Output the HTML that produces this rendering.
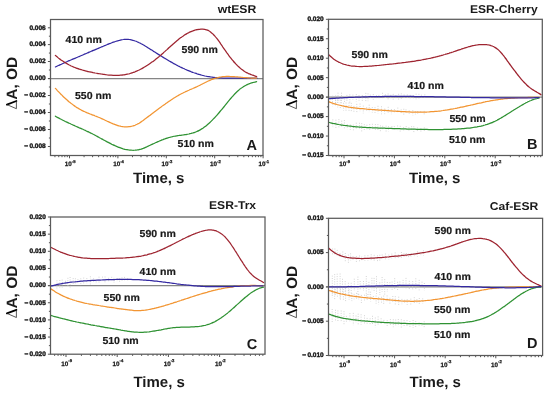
<!DOCTYPE html>
<html><head><meta charset="utf-8"><style>
html,body{margin:0;padding:0;background:#fff;}
body{width:550px;height:393px;overflow:hidden;}
svg{display:block;will-change:transform;filter:blur(0.3px);}
text{font-family:"Liberation Sans", sans-serif;font-weight:bold;fill:#1a1a1a;text-rendering:geometricPrecision;}
.yl{font-size:6.5px;text-anchor:end;fill:#1a1a1a;stroke:#1a1a1a;stroke-width:0.4px;}
.xl{font-size:6.3px;fill:#1a1a1a;stroke:#1a1a1a;stroke-width:0.25px;}
.sup{font-size:4.2px;}
.cl{font-size:10.1px;stroke:#1a1a1a;stroke-width:0.2px;}
.pl{font-size:14.5px;}
.ti{font-size:11.3px;}
.ax{font-size:15px;}
</style></head><body>
<svg width="550" height="393" viewBox="0 0 550 393">
<rect width="550" height="393" fill="#fff"/>
<line x1="48.00" y1="78.50" x2="263.00" y2="78.50" stroke="#858585" stroke-width="1.25"/>
<line x1="47.90" y1="27.80" x2="50.50" y2="27.80" stroke="#555" stroke-width="1"/>
<text x="45.70" y="29.65" class="yl">0.006</text>
<line x1="48.90" y1="36.20" x2="50.50" y2="36.20" stroke="#555" stroke-width="1"/>
<line x1="47.90" y1="44.60" x2="50.50" y2="44.60" stroke="#555" stroke-width="1"/>
<text x="45.70" y="46.45" class="yl">0.004</text>
<line x1="48.90" y1="53.05" x2="50.50" y2="53.05" stroke="#555" stroke-width="1"/>
<line x1="47.90" y1="61.50" x2="50.50" y2="61.50" stroke="#555" stroke-width="1"/>
<text x="45.70" y="63.35" class="yl">0.002</text>
<line x1="48.90" y1="70.00" x2="50.50" y2="70.00" stroke="#555" stroke-width="1"/>
<line x1="47.90" y1="78.50" x2="50.50" y2="78.50" stroke="#555" stroke-width="1"/>
<text x="45.70" y="80.35" class="yl">0.000</text>
<line x1="48.90" y1="87.00" x2="50.50" y2="87.00" stroke="#555" stroke-width="1"/>
<line x1="47.90" y1="95.50" x2="50.50" y2="95.50" stroke="#555" stroke-width="1"/>
<text x="45.70" y="97.35" class="yl">−<tspan dx="1.3">0.002</tspan></text>
<line x1="48.90" y1="104.00" x2="50.50" y2="104.00" stroke="#555" stroke-width="1"/>
<line x1="47.90" y1="112.50" x2="50.50" y2="112.50" stroke="#555" stroke-width="1"/>
<text x="45.70" y="114.35" class="yl">−<tspan dx="1.3">0.004</tspan></text>
<line x1="48.90" y1="121.00" x2="50.50" y2="121.00" stroke="#555" stroke-width="1"/>
<line x1="47.90" y1="129.50" x2="50.50" y2="129.50" stroke="#555" stroke-width="1"/>
<text x="45.70" y="131.35" class="yl">−<tspan dx="1.3">0.006</tspan></text>
<line x1="48.90" y1="138.00" x2="50.50" y2="138.00" stroke="#555" stroke-width="1"/>
<line x1="47.90" y1="146.50" x2="50.50" y2="146.50" stroke="#555" stroke-width="1"/>
<text x="45.70" y="148.35" class="yl">−<tspan dx="1.3">0.008</tspan></text>
<line x1="54.93" y1="155.50" x2="54.93" y2="157.20" stroke="#555" stroke-width="1"/>
<line x1="58.76" y1="155.50" x2="58.76" y2="157.20" stroke="#555" stroke-width="1"/>
<line x1="62.00" y1="155.50" x2="62.00" y2="157.20" stroke="#555" stroke-width="1"/>
<line x1="64.81" y1="155.50" x2="64.81" y2="157.20" stroke="#555" stroke-width="1"/>
<line x1="67.29" y1="155.50" x2="67.29" y2="157.20" stroke="#555" stroke-width="1"/>
<line x1="69.50" y1="155.50" x2="69.50" y2="158.30" stroke="#555" stroke-width="1"/>
<line x1="84.07" y1="155.50" x2="84.07" y2="157.20" stroke="#555" stroke-width="1"/>
<line x1="92.59" y1="155.50" x2="92.59" y2="157.20" stroke="#555" stroke-width="1"/>
<line x1="98.64" y1="155.50" x2="98.64" y2="157.20" stroke="#555" stroke-width="1"/>
<line x1="103.33" y1="155.50" x2="103.33" y2="157.20" stroke="#555" stroke-width="1"/>
<line x1="107.16" y1="155.50" x2="107.16" y2="157.20" stroke="#555" stroke-width="1"/>
<line x1="110.40" y1="155.50" x2="110.40" y2="157.20" stroke="#555" stroke-width="1"/>
<line x1="113.21" y1="155.50" x2="113.21" y2="157.20" stroke="#555" stroke-width="1"/>
<line x1="115.69" y1="155.50" x2="115.69" y2="157.20" stroke="#555" stroke-width="1"/>
<line x1="117.90" y1="155.50" x2="117.90" y2="158.30" stroke="#555" stroke-width="1"/>
<line x1="132.47" y1="155.50" x2="132.47" y2="157.20" stroke="#555" stroke-width="1"/>
<line x1="140.99" y1="155.50" x2="140.99" y2="157.20" stroke="#555" stroke-width="1"/>
<line x1="147.04" y1="155.50" x2="147.04" y2="157.20" stroke="#555" stroke-width="1"/>
<line x1="151.73" y1="155.50" x2="151.73" y2="157.20" stroke="#555" stroke-width="1"/>
<line x1="155.56" y1="155.50" x2="155.56" y2="157.20" stroke="#555" stroke-width="1"/>
<line x1="158.80" y1="155.50" x2="158.80" y2="157.20" stroke="#555" stroke-width="1"/>
<line x1="161.61" y1="155.50" x2="161.61" y2="157.20" stroke="#555" stroke-width="1"/>
<line x1="164.09" y1="155.50" x2="164.09" y2="157.20" stroke="#555" stroke-width="1"/>
<line x1="166.30" y1="155.50" x2="166.30" y2="158.30" stroke="#555" stroke-width="1"/>
<line x1="180.87" y1="155.50" x2="180.87" y2="157.20" stroke="#555" stroke-width="1"/>
<line x1="189.39" y1="155.50" x2="189.39" y2="157.20" stroke="#555" stroke-width="1"/>
<line x1="195.44" y1="155.50" x2="195.44" y2="157.20" stroke="#555" stroke-width="1"/>
<line x1="200.13" y1="155.50" x2="200.13" y2="157.20" stroke="#555" stroke-width="1"/>
<line x1="203.96" y1="155.50" x2="203.96" y2="157.20" stroke="#555" stroke-width="1"/>
<line x1="207.20" y1="155.50" x2="207.20" y2="157.20" stroke="#555" stroke-width="1"/>
<line x1="210.01" y1="155.50" x2="210.01" y2="157.20" stroke="#555" stroke-width="1"/>
<line x1="212.49" y1="155.50" x2="212.49" y2="157.20" stroke="#555" stroke-width="1"/>
<line x1="214.70" y1="155.50" x2="214.70" y2="158.30" stroke="#555" stroke-width="1"/>
<line x1="229.27" y1="155.50" x2="229.27" y2="157.20" stroke="#555" stroke-width="1"/>
<line x1="237.79" y1="155.50" x2="237.79" y2="157.20" stroke="#555" stroke-width="1"/>
<line x1="243.84" y1="155.50" x2="243.84" y2="157.20" stroke="#555" stroke-width="1"/>
<line x1="248.53" y1="155.50" x2="248.53" y2="157.20" stroke="#555" stroke-width="1"/>
<line x1="252.36" y1="155.50" x2="252.36" y2="157.20" stroke="#555" stroke-width="1"/>
<line x1="255.60" y1="155.50" x2="255.60" y2="157.20" stroke="#555" stroke-width="1"/>
<line x1="258.41" y1="155.50" x2="258.41" y2="157.20" stroke="#555" stroke-width="1"/>
<line x1="260.89" y1="155.50" x2="260.89" y2="157.20" stroke="#555" stroke-width="1"/>
<line x1="263.10" y1="155.50" x2="263.10" y2="158.30" stroke="#555" stroke-width="1"/>
<text x="64.80" y="166.30" class="xl">10<tspan class="sup" dy="-3.6">-5</tspan></text>
<text x="113.20" y="166.30" class="xl">10<tspan class="sup" dy="-3.6">-4</tspan></text>
<text x="161.60" y="166.30" class="xl">10<tspan class="sup" dy="-3.6">-3</tspan></text>
<text x="210.00" y="166.30" class="xl">10<tspan class="sup" dy="-3.6">-2</tspan></text>
<text x="258.40" y="166.30" class="xl">10<tspan class="sup" dy="-3.6">-1</tspan></text>
<path d="M55.4,66.9C55.7,66.7 56.7,66.3 57.4,66.0C58.1,65.7 58.7,65.4 59.4,65.1C60.1,64.8 60.7,64.5 61.4,64.2C62.1,63.9 62.7,63.6 63.4,63.3C64.0,63.0 64.7,62.7 65.4,62.4C66.0,62.1 66.7,61.8 67.4,61.5C68.0,61.2 68.7,60.9 69.4,60.7C70.0,60.4 70.7,60.1 71.4,59.8C72.0,59.5 72.7,59.2 73.4,58.9C74.0,58.7 74.7,58.4 75.4,58.1C76.0,57.8 76.7,57.5 77.4,57.2C78.0,56.9 78.7,56.7 79.4,56.4C80.0,56.1 80.7,55.8 81.3,55.5C82.0,55.3 82.7,55.0 83.3,54.7C84.0,54.4 84.7,54.1 85.3,53.8C86.0,53.6 86.7,53.3 87.3,53.0C88.0,52.7 88.7,52.4 89.3,52.1C90.0,51.9 90.7,51.6 91.3,51.3C92.0,51.0 92.7,50.7 93.3,50.4C94.0,50.2 94.7,49.9 95.3,49.6C96.0,49.3 96.7,49.0 97.3,48.7C98.0,48.4 98.6,48.2 99.3,47.9C100.0,47.6 100.6,47.3 101.3,47.0C102.0,46.7 102.6,46.5 103.3,46.2C104.0,45.9 104.6,45.6 105.3,45.4C106.0,45.1 106.6,44.8 107.3,44.5C108.0,44.3 108.6,44.0 109.3,43.7C110.0,43.5 110.6,43.2 111.3,43.0C112.0,42.7 112.6,42.4 113.3,42.2C114.0,42.0 114.6,41.7 115.3,41.5C115.9,41.3 116.6,41.0 117.3,40.8C117.9,40.6 118.6,40.5 119.3,40.3C119.9,40.1 120.6,40.0 121.3,39.8C121.9,39.7 122.6,39.6 123.3,39.5C123.9,39.4 124.6,39.4 125.3,39.3C125.9,39.3 126.6,39.3 127.3,39.3C127.9,39.4 128.6,39.4 129.3,39.5C129.9,39.6 130.6,39.7 131.2,39.8C131.9,40.0 132.6,40.1 133.2,40.3C133.9,40.5 134.6,40.7 135.2,41.0C135.9,41.2 136.6,41.5 137.2,41.8C137.9,42.0 138.6,42.3 139.2,42.7C139.9,43.0 140.6,43.3 141.2,43.7C141.9,44.0 142.6,44.4 143.2,44.8C143.9,45.2 144.6,45.6 145.2,46.0C145.9,46.4 146.6,46.8 147.2,47.2C147.9,47.7 148.5,48.1 149.2,48.5C149.9,48.9 150.5,49.4 151.2,49.8C151.9,50.2 152.5,50.6 153.2,51.1C153.9,51.5 154.5,51.9 155.2,52.3C155.9,52.8 156.5,53.2 157.2,53.6C157.9,54.0 158.5,54.5 159.2,54.9C159.9,55.3 160.5,55.7 161.2,56.1C161.9,56.6 162.5,57.0 163.2,57.4C163.9,57.8 164.5,58.2 165.2,58.6C165.8,59.0 166.5,59.4 167.2,59.8C167.8,60.2 168.5,60.6 169.2,61.0C169.8,61.4 170.5,61.7 171.2,62.1C171.8,62.5 172.5,62.9 173.2,63.2C173.8,63.6 174.5,64.0 175.2,64.3C175.8,64.7 176.5,65.0 177.2,65.4C177.8,65.7 178.5,66.1 179.2,66.4C179.8,66.7 180.5,67.1 181.2,67.4C181.8,67.7 182.5,68.0 183.1,68.3C183.8,68.6 184.5,68.9 185.1,69.2C185.8,69.5 186.5,69.8 187.1,70.1C187.8,70.4 188.5,70.7 189.1,70.9C189.8,71.2 190.5,71.5 191.1,71.7C191.8,72.0 192.5,72.2 193.1,72.5C193.8,72.7 194.5,72.9 195.1,73.2C195.8,73.4 196.5,73.6 197.1,73.8C197.8,74.0 198.4,74.2 199.1,74.4C199.8,74.6 200.4,74.8 201.1,75.0C201.8,75.2 202.4,75.3 203.1,75.5C203.8,75.7 204.4,75.8 205.1,76.0C205.8,76.1 206.4,76.2 207.1,76.4C207.8,76.5 208.4,76.6 209.1,76.7C209.8,76.8 210.4,76.9 211.1,77.0C211.8,77.1 212.4,77.2 213.1,77.3C213.8,77.4 214.4,77.4 215.1,77.5C215.7,77.6 216.4,77.6 217.1,77.7C217.7,77.7 218.4,77.8 219.1,77.8C219.7,77.9 220.4,77.9 221.1,77.9C221.7,78.0 222.4,78.0 223.1,78.0C223.7,78.0 224.4,78.1 225.1,78.1C225.7,78.1 226.4,78.1 227.1,78.1C227.7,78.1 228.4,78.1 229.1,78.1C229.7,78.1 230.4,78.1 231.1,78.1C231.7,78.1 232.4,78.1 233.0,78.1C233.7,78.1 234.4,78.1 235.0,78.1C235.7,78.1 236.4,78.1 237.0,78.1C237.7,78.1 238.4,78.1 239.0,78.1C239.7,78.1 240.4,78.1 241.0,78.0C241.7,78.0 242.4,78.0 243.0,78.0C243.7,78.0 244.4,78.0 245.0,78.0C245.7,78.0 246.4,78.0 247.0,78.0C247.7,78.0 248.4,78.0 249.0,78.0C249.7,78.0 250.3,78.0 251.0,78.0C251.7,78.0 252.3,78.0 253.0,78.1C253.7,78.1 254.3,78.1 255.0,78.1C255.7,78.1 256.7,78.2 257.0,78.2" fill="none" stroke="#3429a2" stroke-width="1.25" stroke-linejoin="round" stroke-linecap="round"/>
<path d="M55.4,55.4C55.7,55.7 56.7,56.6 57.4,57.1C58.1,57.7 58.7,58.2 59.4,58.7C60.0,59.2 60.7,59.7 61.4,60.2C62.0,60.6 62.7,61.1 63.4,61.5C64.0,62.0 64.7,62.4 65.4,62.8C66.0,63.2 66.7,63.6 67.4,63.9C68.0,64.3 68.7,64.7 69.3,65.0C70.0,65.3 70.7,65.7 71.3,66.0C72.0,66.3 72.7,66.6 73.3,66.9C74.0,67.2 74.7,67.4 75.3,67.7C76.0,67.9 76.6,68.2 77.3,68.4C78.0,68.7 78.6,68.9 79.3,69.1C80.0,69.3 80.6,69.5 81.3,69.7C82.0,69.9 82.6,70.1 83.3,70.3C84.0,70.5 84.6,70.7 85.3,70.8C85.9,71.0 86.6,71.2 87.3,71.3C87.9,71.5 88.6,71.6 89.3,71.8C89.9,71.9 90.6,72.1 91.3,72.2C91.9,72.3 92.6,72.5 93.2,72.6C93.9,72.7 94.6,72.9 95.2,73.0C95.9,73.1 96.6,73.2 97.2,73.3C97.9,73.5 98.6,73.6 99.2,73.7C99.9,73.8 100.6,73.9 101.2,74.0C101.9,74.1 102.5,74.2 103.2,74.3C103.9,74.4 104.5,74.5 105.2,74.6C105.9,74.7 106.5,74.8 107.2,74.9C107.9,74.9 108.5,75.0 109.2,75.1C109.9,75.1 110.5,75.2 111.2,75.2C111.8,75.3 112.5,75.3 113.2,75.3C113.8,75.4 114.5,75.4 115.2,75.4C115.8,75.4 116.5,75.4 117.2,75.4C117.8,75.4 118.5,75.3 119.1,75.3C119.8,75.3 120.5,75.2 121.1,75.2C121.8,75.1 122.5,75.0 123.1,74.9C123.8,74.9 124.5,74.8 125.1,74.6C125.8,74.5 126.5,74.4 127.1,74.2C127.8,74.1 128.4,73.9 129.1,73.8C129.8,73.6 130.4,73.4 131.1,73.2C131.8,73.0 132.4,72.8 133.1,72.5C133.8,72.3 134.4,72.0 135.1,71.8C135.7,71.5 136.4,71.2 137.1,70.9C137.7,70.6 138.4,70.3 139.1,70.0C139.7,69.7 140.4,69.4 141.1,69.0C141.7,68.7 142.4,68.3 143.1,67.9C143.7,67.6 144.4,67.2 145.0,66.8C145.7,66.4 146.4,66.0 147.0,65.5C147.7,65.1 148.4,64.7 149.0,64.2C149.7,63.8 150.4,63.3 151.0,62.8C151.7,62.4 152.3,61.9 153.0,61.4C153.7,60.9 154.3,60.4 155.0,59.9C155.7,59.4 156.3,58.8 157.0,58.3C157.7,57.8 158.3,57.2 159.0,56.7C159.7,56.1 160.3,55.5 161.0,55.0C161.6,54.4 162.3,53.8 163.0,53.2C163.6,52.6 164.3,52.0 165.0,51.4C165.6,50.8 166.3,50.2 167.0,49.6C167.6,49.0 168.3,48.4 168.9,47.8C169.6,47.2 170.3,46.6 170.9,46.0C171.6,45.4 172.3,44.8 172.9,44.2C173.6,43.6 174.3,43.0 174.9,42.5C175.6,41.9 176.3,41.3 176.9,40.8C177.6,40.2 178.2,39.7 178.9,39.1C179.6,38.6 180.2,38.1 180.9,37.6C181.6,37.1 182.2,36.6 182.9,36.2C183.6,35.7 184.2,35.3 184.9,34.8C185.5,34.4 186.2,34.0 186.9,33.6C187.5,33.3 188.2,32.9 188.9,32.6C189.5,32.2 190.2,31.9 190.9,31.6C191.5,31.4 192.2,31.1 192.9,30.9C193.5,30.6 194.2,30.4 194.8,30.2C195.5,30.0 196.2,29.9 196.8,29.7C197.5,29.6 198.2,29.5 198.8,29.4C199.5,29.3 200.2,29.3 200.8,29.2C201.5,29.2 202.1,29.2 202.8,29.2C203.5,29.2 204.1,29.3 204.8,29.4C205.5,29.5 206.1,29.7 206.8,29.9C207.5,30.2 208.1,30.4 208.8,30.8C209.5,31.2 210.1,31.7 210.8,32.2C211.4,32.7 212.1,33.3 212.8,33.9C213.4,34.6 214.1,35.3 214.8,36.0C215.4,36.8 216.1,37.6 216.8,38.4C217.4,39.2 218.1,40.1 218.8,41.0C219.4,41.9 220.1,42.9 220.7,43.9C221.4,44.8 222.1,45.8 222.7,46.8C223.4,47.8 224.1,48.8 224.7,49.7C225.4,50.7 226.1,51.7 226.7,52.6C227.4,53.5 228.0,54.4 228.7,55.3C229.4,56.2 230.0,57.1 230.7,57.9C231.4,58.8 232.0,59.6 232.7,60.4C233.4,61.2 234.0,62.0 234.7,62.7C235.4,63.4 236.0,64.2 236.7,64.8C237.3,65.5 238.0,66.2 238.7,66.8C239.3,67.4 240.0,68.0 240.7,68.6C241.3,69.1 242.0,69.6 242.7,70.1C243.3,70.6 244.0,71.1 244.6,71.5C245.3,71.9 246.0,72.3 246.6,72.6C247.3,73.0 248.0,73.3 248.6,73.6C249.3,73.9 250.0,74.1 250.6,74.4C251.3,74.7 252.0,74.9 252.6,75.2C253.3,75.4 253.9,75.6 254.6,75.9C255.3,76.1 256.3,76.4 256.6,76.6" fill="none" stroke="#9e2430" stroke-width="1.25" stroke-linejoin="round" stroke-linecap="round"/>
<path d="M55.4,88.4C55.7,88.7 56.7,89.8 57.4,90.6C58.1,91.3 58.7,92.0 59.4,92.7C60.0,93.4 60.7,94.0 61.4,94.7C62.0,95.4 62.7,96.0 63.4,96.7C64.0,97.3 64.7,97.9 65.4,98.5C66.0,99.1 66.7,99.7 67.4,100.3C68.0,100.9 68.7,101.4 69.3,102.0C70.0,102.5 70.7,103.1 71.3,103.6C72.0,104.1 72.7,104.6 73.3,105.1C74.0,105.6 74.7,106.0 75.3,106.5C76.0,106.9 76.6,107.4 77.3,107.8C78.0,108.2 78.6,108.6 79.3,109.0C80.0,109.4 80.6,109.7 81.3,110.1C82.0,110.4 82.6,110.8 83.3,111.1C84.0,111.4 84.6,111.7 85.3,112.0C85.9,112.3 86.6,112.6 87.3,112.9C87.9,113.1 88.6,113.4 89.3,113.7C89.9,113.9 90.6,114.2 91.3,114.4C91.9,114.7 92.6,114.9 93.2,115.2C93.9,115.4 94.6,115.7 95.2,116.0C95.9,116.2 96.6,116.5 97.2,116.7C97.9,117.0 98.6,117.3 99.2,117.5C99.9,117.8 100.6,118.1 101.2,118.4C101.9,118.7 102.5,119.0 103.2,119.3C103.9,119.6 104.5,119.9 105.2,120.3C105.9,120.6 106.5,120.9 107.2,121.2C107.9,121.5 108.5,121.8 109.2,122.1C109.9,122.5 110.5,122.8 111.2,123.0C111.8,123.3 112.5,123.6 113.2,123.9C113.8,124.1 114.5,124.4 115.2,124.6C115.8,124.9 116.5,125.1 117.2,125.3C117.8,125.5 118.5,125.7 119.1,125.9C119.8,126.0 120.5,126.2 121.1,126.3C121.8,126.4 122.5,126.5 123.1,126.6C123.8,126.7 124.5,126.8 125.1,126.8C125.8,126.8 126.5,126.9 127.1,126.8C127.8,126.8 128.4,126.8 129.1,126.7C129.8,126.6 130.4,126.5 131.1,126.4C131.8,126.3 132.4,126.1 133.1,125.9C133.8,125.7 134.4,125.5 135.1,125.2C135.7,124.9 136.4,124.6 137.1,124.3C137.7,123.9 138.4,123.6 139.1,123.2C139.7,122.8 140.4,122.3 141.1,121.9C141.7,121.4 142.4,121.0 143.1,120.5C143.7,120.0 144.4,119.5 145.0,119.0C145.7,118.6 146.4,118.1 147.0,117.6C147.7,117.1 148.4,116.6 149.0,116.1C149.7,115.6 150.4,115.1 151.0,114.5C151.7,114.0 152.3,113.5 153.0,113.0C153.7,112.5 154.3,112.0 155.0,111.5C155.7,111.0 156.3,110.5 157.0,110.0C157.7,109.5 158.3,109.0 159.0,108.5C159.7,108.0 160.3,107.5 161.0,107.1C161.6,106.6 162.3,106.1 163.0,105.6C163.6,105.1 164.3,104.7 165.0,104.2C165.6,103.7 166.3,103.3 167.0,102.8C167.6,102.3 168.3,101.9 168.9,101.4C169.6,101.0 170.3,100.5 170.9,100.1C171.6,99.6 172.3,99.2 172.9,98.8C173.6,98.4 174.3,97.9 174.9,97.5C175.6,97.1 176.3,96.7 176.9,96.3C177.6,95.9 178.2,95.5 178.9,95.1C179.6,94.8 180.2,94.4 180.9,94.0C181.6,93.7 182.2,93.3 182.9,93.0C183.6,92.6 184.2,92.3 184.9,92.0C185.5,91.7 186.2,91.4 186.9,91.1C187.5,90.8 188.2,90.5 188.9,90.2C189.5,89.9 190.2,89.6 190.9,89.3C191.5,89.1 192.2,88.8 192.9,88.5C193.5,88.2 194.2,87.9 194.8,87.6C195.5,87.3 196.2,87.0 196.8,86.7C197.5,86.4 198.2,86.0 198.8,85.7C199.5,85.4 200.2,85.1 200.8,84.7C201.5,84.4 202.1,84.0 202.8,83.7C203.5,83.4 204.1,83.0 204.8,82.7C205.5,82.4 206.1,82.0 206.8,81.7C207.5,81.4 208.1,81.1 208.8,80.8C209.5,80.5 210.1,80.2 210.8,79.9C211.4,79.6 212.1,79.4 212.8,79.1C213.4,78.9 214.1,78.6 214.8,78.4C215.4,78.2 216.1,78.0 216.8,77.8C217.4,77.6 218.1,77.5 218.8,77.3C219.4,77.2 220.1,77.1 220.7,77.0C221.4,76.9 222.1,76.8 222.7,76.7C223.4,76.6 224.1,76.6 224.7,76.5C225.4,76.5 226.1,76.5 226.7,76.4C227.4,76.4 228.0,76.4 228.7,76.4C229.4,76.4 230.0,76.4 230.7,76.5C231.4,76.5 232.0,76.5 232.7,76.5C233.4,76.6 234.0,76.6 234.7,76.7C235.4,76.7 236.0,76.8 236.7,76.8C237.3,76.9 238.0,76.9 238.7,77.0C239.3,77.1 240.0,77.1 240.7,77.2C241.3,77.2 242.0,77.3 242.7,77.4C243.3,77.4 244.0,77.5 244.6,77.6C245.3,77.6 246.0,77.7 246.6,77.7C247.3,77.8 248.0,77.8 248.6,77.9C249.3,77.9 250.0,77.9 250.6,78.0C251.3,78.0 252.0,78.0 252.6,78.0C253.3,78.0 253.9,78.0 254.6,78.0C255.3,78.0 256.3,78.0 256.6,78.0" fill="none" stroke="#f29532" stroke-width="1.25" stroke-linejoin="round" stroke-linecap="round"/>
<path d="M55.4,116.2C55.7,116.4 56.7,117.0 57.4,117.4C58.1,117.7 58.7,118.1 59.4,118.4C60.0,118.8 60.7,119.1 61.4,119.5C62.0,119.8 62.7,120.2 63.4,120.5C64.0,120.8 64.7,121.1 65.4,121.5C66.0,121.8 66.7,122.1 67.4,122.4C68.0,122.7 68.7,123.0 69.3,123.3C70.0,123.6 70.7,123.9 71.3,124.2C72.0,124.5 72.7,124.8 73.3,125.1C74.0,125.4 74.7,125.7 75.3,126.0C76.0,126.3 76.6,126.6 77.3,126.9C78.0,127.2 78.6,127.5 79.3,127.8C80.0,128.0 80.6,128.3 81.3,128.6C82.0,128.9 82.6,129.2 83.3,129.5C84.0,129.8 84.6,130.1 85.3,130.4C85.9,130.7 86.6,131.0 87.3,131.4C87.9,131.7 88.6,132.0 89.3,132.3C89.9,132.6 90.6,133.0 91.3,133.3C91.9,133.6 92.6,134.0 93.2,134.3C93.9,134.6 94.6,135.0 95.2,135.3C95.9,135.7 96.6,136.1 97.2,136.4C97.9,136.8 98.6,137.1 99.2,137.5C99.9,137.9 100.6,138.2 101.2,138.6C101.9,139.0 102.5,139.3 103.2,139.7C103.9,140.1 104.5,140.4 105.2,140.8C105.9,141.2 106.5,141.5 107.2,141.9C107.9,142.2 108.5,142.6 109.2,142.9C109.9,143.3 110.5,143.6 111.2,143.9C111.8,144.3 112.5,144.6 113.2,144.9C113.8,145.2 114.5,145.5 115.2,145.8C115.8,146.1 116.5,146.4 117.2,146.7C117.8,146.9 118.5,147.2 119.1,147.4C119.8,147.7 120.5,147.9 121.1,148.1C121.8,148.4 122.5,148.6 123.1,148.8C123.8,149.0 124.5,149.1 125.1,149.3C125.8,149.4 126.5,149.6 127.1,149.7C127.8,149.8 128.4,149.9 129.1,150.0C129.8,150.1 130.4,150.2 131.1,150.2C131.8,150.2 132.4,150.3 133.1,150.3C133.8,150.3 134.4,150.2 135.1,150.2C135.7,150.1 136.4,150.1 137.1,150.0C137.7,149.9 138.4,149.8 139.1,149.6C139.7,149.5 140.4,149.3 141.1,149.1C141.7,148.9 142.4,148.6 143.1,148.4C143.7,148.2 144.4,147.9 145.0,147.6C145.7,147.3 146.4,147.0 147.0,146.7C147.7,146.4 148.4,146.1 149.0,145.8C149.7,145.5 150.4,145.2 151.0,144.8C151.7,144.5 152.3,144.2 153.0,143.9C153.7,143.6 154.3,143.3 155.0,143.0C155.7,142.7 156.3,142.4 157.0,142.1C157.7,141.8 158.3,141.5 159.0,141.2C159.7,140.9 160.3,140.6 161.0,140.4C161.6,140.1 162.3,139.8 163.0,139.6C163.6,139.3 164.3,139.1 165.0,138.8C165.6,138.6 166.3,138.4 167.0,138.1C167.6,137.9 168.3,137.7 168.9,137.5C169.6,137.3 170.3,137.2 170.9,137.0C171.6,136.8 172.3,136.7 172.9,136.5C173.6,136.4 174.3,136.3 174.9,136.2C175.6,136.0 176.3,135.9 176.9,135.8C177.6,135.7 178.2,135.6 178.9,135.5C179.6,135.4 180.2,135.3 180.9,135.3C181.6,135.2 182.2,135.1 182.9,135.0C183.6,134.9 184.2,134.8 184.9,134.7C185.5,134.6 186.2,134.5 186.9,134.3C187.5,134.2 188.2,134.1 188.9,134.0C189.5,133.8 190.2,133.7 190.9,133.5C191.5,133.3 192.2,133.2 192.9,133.0C193.5,132.8 194.2,132.5 194.8,132.3C195.5,132.1 196.2,131.8 196.8,131.5C197.5,131.2 198.2,130.9 198.8,130.6C199.5,130.3 200.2,129.9 200.8,129.5C201.5,129.1 202.1,128.7 202.8,128.3C203.5,127.8 204.1,127.3 204.8,126.8C205.5,126.3 206.1,125.8 206.8,125.2C207.5,124.7 208.1,124.1 208.8,123.5C209.5,122.9 210.1,122.3 210.8,121.6C211.4,121.0 212.1,120.3 212.8,119.6C213.4,119.0 214.1,118.2 214.8,117.5C215.4,116.8 216.1,116.1 216.8,115.3C217.4,114.6 218.1,113.8 218.8,113.0C219.4,112.3 220.1,111.5 220.7,110.7C221.4,109.9 222.1,109.1 222.7,108.3C223.4,107.5 224.1,106.6 224.7,105.8C225.4,105.0 226.1,104.2 226.7,103.3C227.4,102.5 228.0,101.7 228.7,100.9C229.4,100.1 230.0,99.3 230.7,98.5C231.4,97.7 232.0,97.0 232.7,96.2C233.4,95.5 234.0,94.7 234.7,94.0C235.4,93.3 236.0,92.7 236.7,92.0C237.3,91.4 238.0,90.8 238.7,90.2C239.3,89.6 240.0,89.1 240.7,88.6C241.3,88.1 242.0,87.6 242.7,87.2C243.3,86.7 244.0,86.3 244.6,85.9C245.3,85.6 246.0,85.2 246.6,84.9C247.3,84.6 248.0,84.3 248.6,84.0C249.3,83.7 250.0,83.5 250.6,83.2C251.3,83.0 252.0,82.8 252.6,82.6C253.3,82.4 253.9,82.2 254.6,82.1C255.3,81.9 256.3,81.7 256.6,81.6" fill="none" stroke="#2f9233" stroke-width="1.25" stroke-linejoin="round" stroke-linecap="round"/>
<rect x="50.50" y="19.50" width="212.50" height="136.00" fill="none" stroke="#5a5a5a" stroke-width="1.25"/>
<text x="65.60" y="42.60" class="cl" textLength="36.3" lengthAdjust="spacingAndGlyphs">410 nm</text>
<text x="181.60" y="53.40" class="cl" textLength="36.3" lengthAdjust="spacingAndGlyphs">590 nm</text>
<text x="75.00" y="99.40" class="cl" textLength="36.3" lengthAdjust="spacingAndGlyphs">550 nm</text>
<text x="177.60" y="147.00" class="cl" textLength="36.3" lengthAdjust="spacingAndGlyphs">510 nm</text>
<text x="246.50" y="149.70" class="pl">A</text>
<text x="256.30" y="12.80" class="ti" text-anchor="end" textLength="38.6" lengthAdjust="spacingAndGlyphs">wtESR</text>
<text x="133.00" y="182.80" class="ax">Time, s</text>
<path d="M6.90,104.60 L16.40,101.00" stroke="#000" stroke-width="1.8" stroke-linecap="round"/>
<path d="M6.90,104.60 L16.40,108.70 L16.40,101.00" fill="none" stroke="#222" stroke-width="0.75" stroke-linejoin="miter"/>
<text transform="translate(17.10,99.80) rotate(-90)" x="0" y="0" class="ax" textLength="43.0" lengthAdjust="spacingAndGlyphs">A, OD</text>
<line x1="326.00" y1="97.20" x2="542.30" y2="97.20" stroke="#858585" stroke-width="1.25"/>
<line x1="325.90" y1="19.30" x2="328.50" y2="19.30" stroke="#555" stroke-width="1"/>
<text x="323.70" y="21.15" class="yl">0.020</text>
<line x1="326.90" y1="29.03" x2="328.50" y2="29.03" stroke="#555" stroke-width="1"/>
<line x1="325.90" y1="38.76" x2="328.50" y2="38.76" stroke="#555" stroke-width="1"/>
<text x="323.70" y="40.61" class="yl">0.015</text>
<line x1="326.90" y1="48.49" x2="328.50" y2="48.49" stroke="#555" stroke-width="1"/>
<line x1="325.90" y1="58.21" x2="328.50" y2="58.21" stroke="#555" stroke-width="1"/>
<text x="323.70" y="60.06" class="yl">0.010</text>
<line x1="326.90" y1="67.94" x2="328.50" y2="67.94" stroke="#555" stroke-width="1"/>
<line x1="325.90" y1="77.67" x2="328.50" y2="77.67" stroke="#555" stroke-width="1"/>
<text x="323.70" y="79.52" class="yl">0.005</text>
<line x1="326.90" y1="87.40" x2="328.50" y2="87.40" stroke="#555" stroke-width="1"/>
<line x1="325.90" y1="97.13" x2="328.50" y2="97.13" stroke="#555" stroke-width="1"/>
<text x="323.70" y="98.98" class="yl">0.000</text>
<line x1="326.90" y1="106.86" x2="328.50" y2="106.86" stroke="#555" stroke-width="1"/>
<line x1="325.90" y1="116.59" x2="328.50" y2="116.59" stroke="#555" stroke-width="1"/>
<text x="323.70" y="118.44" class="yl">−<tspan dx="1.3">0.005</tspan></text>
<line x1="326.90" y1="126.31" x2="328.50" y2="126.31" stroke="#555" stroke-width="1"/>
<line x1="325.90" y1="136.04" x2="328.50" y2="136.04" stroke="#555" stroke-width="1"/>
<text x="323.70" y="137.89" class="yl">−<tspan dx="1.3">0.010</tspan></text>
<line x1="326.90" y1="145.77" x2="328.50" y2="145.77" stroke="#555" stroke-width="1"/>
<line x1="325.90" y1="155.50" x2="328.50" y2="155.50" stroke="#555" stroke-width="1"/>
<text x="323.70" y="157.35" class="yl">−<tspan dx="1.3">0.015</tspan></text>
<line x1="332.82" y1="155.50" x2="332.82" y2="157.20" stroke="#555" stroke-width="1"/>
<line x1="336.19" y1="155.50" x2="336.19" y2="157.20" stroke="#555" stroke-width="1"/>
<line x1="339.12" y1="155.50" x2="339.12" y2="157.20" stroke="#555" stroke-width="1"/>
<line x1="341.69" y1="155.50" x2="341.69" y2="157.20" stroke="#555" stroke-width="1"/>
<line x1="344.00" y1="155.50" x2="344.00" y2="158.30" stroke="#555" stroke-width="1"/>
<line x1="359.17" y1="155.50" x2="359.17" y2="157.20" stroke="#555" stroke-width="1"/>
<line x1="368.05" y1="155.50" x2="368.05" y2="157.20" stroke="#555" stroke-width="1"/>
<line x1="374.34" y1="155.50" x2="374.34" y2="157.20" stroke="#555" stroke-width="1"/>
<line x1="379.23" y1="155.50" x2="379.23" y2="157.20" stroke="#555" stroke-width="1"/>
<line x1="383.22" y1="155.50" x2="383.22" y2="157.20" stroke="#555" stroke-width="1"/>
<line x1="386.59" y1="155.50" x2="386.59" y2="157.20" stroke="#555" stroke-width="1"/>
<line x1="389.52" y1="155.50" x2="389.52" y2="157.20" stroke="#555" stroke-width="1"/>
<line x1="392.09" y1="155.50" x2="392.09" y2="157.20" stroke="#555" stroke-width="1"/>
<line x1="394.40" y1="155.50" x2="394.40" y2="158.30" stroke="#555" stroke-width="1"/>
<line x1="409.57" y1="155.50" x2="409.57" y2="157.20" stroke="#555" stroke-width="1"/>
<line x1="418.45" y1="155.50" x2="418.45" y2="157.20" stroke="#555" stroke-width="1"/>
<line x1="424.74" y1="155.50" x2="424.74" y2="157.20" stroke="#555" stroke-width="1"/>
<line x1="429.63" y1="155.50" x2="429.63" y2="157.20" stroke="#555" stroke-width="1"/>
<line x1="433.62" y1="155.50" x2="433.62" y2="157.20" stroke="#555" stroke-width="1"/>
<line x1="436.99" y1="155.50" x2="436.99" y2="157.20" stroke="#555" stroke-width="1"/>
<line x1="439.92" y1="155.50" x2="439.92" y2="157.20" stroke="#555" stroke-width="1"/>
<line x1="442.49" y1="155.50" x2="442.49" y2="157.20" stroke="#555" stroke-width="1"/>
<line x1="444.80" y1="155.50" x2="444.80" y2="158.30" stroke="#555" stroke-width="1"/>
<line x1="459.97" y1="155.50" x2="459.97" y2="157.20" stroke="#555" stroke-width="1"/>
<line x1="468.85" y1="155.50" x2="468.85" y2="157.20" stroke="#555" stroke-width="1"/>
<line x1="475.14" y1="155.50" x2="475.14" y2="157.20" stroke="#555" stroke-width="1"/>
<line x1="480.03" y1="155.50" x2="480.03" y2="157.20" stroke="#555" stroke-width="1"/>
<line x1="484.02" y1="155.50" x2="484.02" y2="157.20" stroke="#555" stroke-width="1"/>
<line x1="487.39" y1="155.50" x2="487.39" y2="157.20" stroke="#555" stroke-width="1"/>
<line x1="490.32" y1="155.50" x2="490.32" y2="157.20" stroke="#555" stroke-width="1"/>
<line x1="492.89" y1="155.50" x2="492.89" y2="157.20" stroke="#555" stroke-width="1"/>
<line x1="495.20" y1="155.50" x2="495.20" y2="158.30" stroke="#555" stroke-width="1"/>
<line x1="510.37" y1="155.50" x2="510.37" y2="157.20" stroke="#555" stroke-width="1"/>
<line x1="519.25" y1="155.50" x2="519.25" y2="157.20" stroke="#555" stroke-width="1"/>
<line x1="525.54" y1="155.50" x2="525.54" y2="157.20" stroke="#555" stroke-width="1"/>
<line x1="530.43" y1="155.50" x2="530.43" y2="157.20" stroke="#555" stroke-width="1"/>
<line x1="534.42" y1="155.50" x2="534.42" y2="157.20" stroke="#555" stroke-width="1"/>
<line x1="537.79" y1="155.50" x2="537.79" y2="157.20" stroke="#555" stroke-width="1"/>
<line x1="540.72" y1="155.50" x2="540.72" y2="157.20" stroke="#555" stroke-width="1"/>
<text x="339.30" y="166.30" class="xl">10<tspan class="sup" dy="-3.6">-5</tspan></text>
<text x="389.70" y="166.30" class="xl">10<tspan class="sup" dy="-3.6">-4</tspan></text>
<text x="440.10" y="166.30" class="xl">10<tspan class="sup" dy="-3.6">-3</tspan></text>
<text x="490.50" y="166.30" class="xl">10<tspan class="sup" dy="-3.6">-2</tspan></text>
<path d="M332.5,98.8V106.2M335.5,99.6V105.9M337.7,99.5V107.4M340.3,99.8V109.1M343.6,102.8V110.5M346.0,102.5V111.6M349.0,102.6V111.2M351.3,102.9V111.1M353.9,105.9V112.4M356.8,103.9V112.7M360.0,103.6V111.2M363.3,105.6V113.3M366.7,107.2V110.9M369.2,104.7V112.1M372.3,107.1V112.5M375.0,107.2V112.8M378.0,105.8V113.3M381.5,106.3V114.3M384.7,108.6V114.1M388.2,106.8V113.4M391.4,109.0V114.2M394.4,109.1V112.3M397.8,107.6V112.5M401.2,109.4V112.9M403.8,108.8V114.8M406.0,109.4V113.0M409.2,110.4V115.1M412.8,110.1V115.3M415.4,111.2V114.4M417.7,111.0V114.0M420.7,111.2V113.3M424.2,110.9V114.9M332.8,119.4V127.1M335.9,119.7V127.9M338.9,119.1V128.4M341.7,120.7V127.9M344.4,120.1V129.2M347.3,124.2V129.1M350.3,124.5V130.0M353.4,124.6V130.3M356.3,122.7V129.5M359.5,122.8V128.5M361.7,123.2V131.8M364.3,124.2V130.6M366.9,124.7V129.8M369.7,124.1V129.9M372.4,123.8V129.1M375.4,124.1V130.0M377.9,124.1V129.9M380.4,125.4V131.3M382.7,125.8V130.3M386.1,125.7V131.9M388.5,126.2V131.3M391.9,126.1V130.3M394.3,126.1V130.3M397.6,125.5V130.4M400.2,125.8V131.5M403.6,127.1V130.3M406.2,126.1V130.7M408.9,127.2V131.0M411.6,126.2V130.5M413.8,126.3V132.1M417.4,127.5V132.2M420.9,128.1V131.8M424.3,127.4V131.3M332.7,95.7V100.5M335.7,95.3V103.3M338.0,92.7V102.7M341.5,92.7V103.2M344.5,96.1V102.4M346.9,94.9V101.8M349.8,94.4V102.7M352.9,94.6V99.9M356.3,94.1V101.7M359.0,95.0V100.6M362.3,95.1V101.3M365.8,92.9V101.2M368.0,93.4V101.2M370.3,94.6V99.1M373.3,94.1V99.6M376.5,95.3V98.1M378.9,94.9V98.1M382.5,92.8V98.1M385.4,94.4V98.7M388.1,93.5V99.4M390.8,94.8V98.6M393.2,93.9V99.6M395.9,95.2V98.1M398.6,93.8V99.5M401.3,93.4V99.0M404.1,94.5V98.7M407.3,94.4V99.0M410.2,94.9V98.6M413.4,95.3V98.3M416.1,93.7V99.3M418.9,93.8V99.0M421.4,94.7V97.6M424.8,94.4V99.0" fill="none" stroke="#c8c8c8" stroke-width="0.9" stroke-dasharray="1 1.4" opacity="0.85"/>
<path d="M328.7,54.6C329.0,54.9 330.0,55.9 330.7,56.5C331.4,57.1 332.0,57.7 332.7,58.2C333.4,58.8 334.0,59.3 334.7,59.7C335.4,60.2 336.0,60.6 336.7,61.0C337.4,61.4 338.0,61.8 338.7,62.1C339.4,62.4 340.0,62.7 340.7,63.0C341.4,63.3 342.1,63.6 342.7,63.8C343.4,64.0 344.1,64.3 344.7,64.5C345.4,64.7 346.1,64.8 346.7,65.0C347.4,65.2 348.1,65.3 348.7,65.4C349.4,65.6 350.1,65.7 350.7,65.8C351.4,65.9 352.1,66.0 352.7,66.0C353.4,66.1 354.1,66.2 354.7,66.2C355.4,66.3 356.1,66.3 356.7,66.4C357.4,66.4 358.1,66.4 358.7,66.5C359.4,66.5 360.1,66.5 360.7,66.5C361.4,66.5 362.1,66.5 362.7,66.5C363.4,66.4 364.1,66.4 364.8,66.4C365.4,66.4 366.1,66.3 366.8,66.3C367.4,66.3 368.1,66.2 368.8,66.2C369.4,66.1 370.1,66.1 370.8,66.0C371.4,66.0 372.1,65.9 372.8,65.8C373.4,65.8 374.1,65.7 374.8,65.7C375.4,65.6 376.1,65.5 376.8,65.5C377.4,65.4 378.1,65.3 378.8,65.3C379.4,65.2 380.1,65.1 380.8,65.1C381.4,65.0 382.1,64.9 382.8,64.9C383.4,64.8 384.1,64.8 384.8,64.7C385.4,64.6 386.1,64.6 386.8,64.5C387.4,64.4 388.1,64.4 388.8,64.3C389.5,64.2 390.1,64.2 390.8,64.1C391.5,64.0 392.1,63.9 392.8,63.9C393.5,63.8 394.1,63.7 394.8,63.7C395.5,63.6 396.1,63.5 396.8,63.4C397.5,63.4 398.1,63.3 398.8,63.2C399.5,63.1 400.1,63.1 400.8,63.0C401.5,62.9 402.1,62.8 402.8,62.7C403.5,62.6 404.1,62.6 404.8,62.5C405.5,62.4 406.1,62.3 406.8,62.2C407.5,62.1 408.1,62.0 408.8,61.9C409.5,61.8 410.1,61.8 410.8,61.7C411.5,61.6 412.2,61.5 412.8,61.4C413.5,61.3 414.2,61.2 414.8,61.1C415.5,61.0 416.2,60.8 416.8,60.7C417.5,60.6 418.2,60.5 418.8,60.4C419.5,60.3 420.2,60.2 420.8,60.1C421.5,59.9 422.2,59.8 422.8,59.7C423.5,59.6 424.2,59.4 424.8,59.3C425.5,59.2 426.2,59.1 426.8,58.9C427.5,58.8 428.2,58.7 428.8,58.5C429.5,58.4 430.2,58.2 430.8,58.1C431.5,57.9 432.2,57.8 432.8,57.6C433.5,57.5 434.2,57.3 434.9,57.2C435.5,57.0 436.2,56.9 436.9,56.7C437.5,56.5 438.2,56.4 438.9,56.2C439.5,56.0 440.2,55.8 440.9,55.7C441.5,55.5 442.2,55.3 442.9,55.1C443.5,54.9 444.2,54.7 444.9,54.5C445.5,54.3 446.2,54.1 446.9,53.9C447.5,53.7 448.2,53.5 448.9,53.3C449.5,53.1 450.2,52.9 450.9,52.7C451.5,52.5 452.2,52.2 452.9,52.0C453.5,51.8 454.2,51.6 454.9,51.3C455.5,51.1 456.2,50.9 456.9,50.6C457.5,50.4 458.2,50.2 458.9,49.9C459.6,49.7 460.2,49.5 460.9,49.3C461.6,49.0 462.2,48.8 462.9,48.6C463.6,48.4 464.2,48.1 464.9,47.9C465.6,47.7 466.2,47.5 466.9,47.3C467.6,47.1 468.2,46.9 468.9,46.7C469.6,46.6 470.2,46.4 470.9,46.2C471.6,46.0 472.2,45.9 472.9,45.7C473.6,45.6 474.2,45.4 474.9,45.3C475.6,45.2 476.2,45.1 476.9,45.0C477.6,44.9 478.2,44.8 478.9,44.7C479.6,44.7 480.2,44.6 480.9,44.6C481.6,44.5 482.3,44.5 482.9,44.5C483.6,44.5 484.3,44.5 484.9,44.5C485.6,44.6 486.3,44.6 486.9,44.7C487.6,44.8 488.3,44.9 488.9,45.0C489.6,45.2 490.3,45.3 490.9,45.6C491.6,45.8 492.3,46.0 492.9,46.3C493.6,46.6 494.3,47.0 494.9,47.4C495.6,47.8 496.3,48.2 496.9,48.7C497.6,49.3 498.3,49.8 498.9,50.4C499.6,51.1 500.3,51.8 500.9,52.5C501.6,53.2 502.3,54.1 502.9,54.9C503.6,55.7 504.3,56.6 504.9,57.5C505.6,58.4 506.3,59.3 507.0,60.3C507.6,61.2 508.3,62.1 509.0,63.1C509.6,64.0 510.3,64.9 511.0,65.8C511.6,66.7 512.3,67.7 513.0,68.6C513.6,69.5 514.3,70.4 515.0,71.2C515.6,72.1 516.3,73.0 517.0,73.9C517.6,74.7 518.3,75.6 519.0,76.4C519.6,77.2 520.3,78.0 521.0,78.8C521.6,79.6 522.3,80.3 523.0,81.1C523.6,81.8 524.3,82.5 525.0,83.2C525.6,83.9 526.3,84.5 527.0,85.2C527.6,85.8 528.3,86.4 529.0,86.9C529.7,87.5 530.3,88.0 531.0,88.5C531.7,89.0 532.3,89.5 533.0,89.9C533.7,90.3 534.3,90.7 535.0,91.1C535.7,91.4 536.3,91.8 537.0,92.2C537.7,92.5 538.3,92.9 539.0,93.4C539.7,93.8 540.7,94.5 541.0,94.8" fill="none" stroke="#9e2430" stroke-width="1.25" stroke-linejoin="round" stroke-linecap="round"/>
<path d="M328.7,101.7C329.0,101.8 330.0,102.3 330.7,102.5C331.4,102.8 332.0,103.0 332.7,103.2C333.4,103.5 334.0,103.7 334.7,103.9C335.4,104.1 336.1,104.3 336.7,104.5C337.4,104.7 338.1,104.9 338.7,105.0C339.4,105.2 340.1,105.4 340.7,105.5C341.4,105.7 342.1,105.8 342.7,106.0C343.4,106.1 344.1,106.3 344.7,106.4C345.4,106.5 346.1,106.6 346.7,106.7C347.4,106.9 348.1,107.0 348.7,107.1C349.4,107.2 350.1,107.3 350.8,107.4C351.4,107.5 352.1,107.5 352.8,107.6C353.4,107.7 354.1,107.8 354.8,107.9C355.4,108.0 356.1,108.0 356.8,108.1C357.4,108.2 358.1,108.3 358.8,108.3C359.4,108.4 360.1,108.5 360.8,108.5C361.4,108.6 362.1,108.7 362.8,108.7C363.4,108.8 364.1,108.9 364.8,108.9C365.5,109.0 366.1,109.0 366.8,109.1C367.5,109.1 368.1,109.2 368.8,109.3C369.5,109.3 370.1,109.4 370.8,109.4C371.5,109.5 372.1,109.5 372.8,109.6C373.5,109.6 374.1,109.7 374.8,109.7C375.5,109.8 376.1,109.8 376.8,109.9C377.5,109.9 378.2,110.0 378.8,110.0C379.5,110.0 380.2,110.1 380.8,110.1C381.5,110.2 382.2,110.2 382.8,110.3C383.5,110.3 384.2,110.4 384.8,110.4C385.5,110.5 386.2,110.5 386.8,110.6C387.5,110.6 388.2,110.7 388.8,110.7C389.5,110.8 390.2,110.8 390.8,110.9C391.5,110.9 392.2,111.0 392.9,111.0C393.5,111.0 394.2,111.1 394.9,111.1C395.5,111.2 396.2,111.2 396.9,111.3C397.5,111.3 398.2,111.4 398.9,111.4C399.5,111.4 400.2,111.5 400.9,111.5C401.5,111.6 402.2,111.6 402.9,111.6C403.5,111.7 404.2,111.7 404.9,111.7C405.5,111.8 406.2,111.8 406.9,111.8C407.6,111.9 408.2,111.9 408.9,111.9C409.6,111.9 410.2,112.0 410.9,112.0C411.6,112.0 412.2,112.0 412.9,112.0C413.6,112.0 414.2,112.1 414.9,112.1C415.6,112.1 416.2,112.1 416.9,112.1C417.6,112.1 418.2,112.1 418.9,112.1C419.6,112.1 420.3,112.1 420.9,112.1C421.6,112.1 422.3,112.1 422.9,112.1C423.6,112.1 424.3,112.0 424.9,112.0C425.6,112.0 426.3,112.0 426.9,112.0C427.6,111.9 428.3,111.9 428.9,111.9C429.6,111.8 430.3,111.8 430.9,111.7C431.6,111.7 432.3,111.7 432.9,111.6C433.6,111.6 434.3,111.5 435.0,111.4C435.6,111.4 436.3,111.3 437.0,111.3C437.6,111.2 438.3,111.1 439.0,111.0C439.6,111.0 440.3,110.9 441.0,110.8C441.6,110.7 442.3,110.6 443.0,110.5C443.6,110.4 444.3,110.3 445.0,110.2C445.6,110.1 446.3,110.0 447.0,109.9C447.6,109.8 448.3,109.7 449.0,109.6C449.7,109.5 450.3,109.3 451.0,109.2C451.7,109.1 452.3,109.0 453.0,108.9C453.7,108.7 454.3,108.6 455.0,108.5C455.7,108.3 456.3,108.2 457.0,108.1C457.7,107.9 458.3,107.8 459.0,107.7C459.7,107.5 460.3,107.4 461.0,107.2C461.7,107.1 462.4,107.0 463.0,106.8C463.7,106.7 464.4,106.5 465.0,106.4C465.7,106.2 466.4,106.1 467.0,105.9C467.7,105.8 468.4,105.6 469.0,105.5C469.7,105.3 470.4,105.2 471.0,105.0C471.7,104.9 472.4,104.7 473.0,104.6C473.7,104.4 474.4,104.2 475.0,104.1C475.7,103.9 476.4,103.8 477.1,103.6C477.7,103.5 478.4,103.3 479.1,103.2C479.7,103.0 480.4,102.9 481.1,102.8C481.7,102.6 482.4,102.5 483.1,102.3C483.7,102.2 484.4,102.0 485.1,101.9C485.7,101.8 486.4,101.6 487.1,101.5C487.7,101.4 488.4,101.2 489.1,101.1C489.7,101.0 490.4,100.9 491.1,100.7C491.8,100.6 492.4,100.5 493.1,100.4C493.8,100.3 494.4,100.2 495.1,100.1C495.8,100.0 496.4,99.9 497.1,99.8C497.8,99.7 498.4,99.6 499.1,99.5C499.8,99.4 500.4,99.3 501.1,99.2C501.8,99.1 502.4,99.0 503.1,99.0C503.8,98.9 504.5,98.8 505.1,98.7C505.8,98.7 506.5,98.6 507.1,98.5C507.8,98.5 508.5,98.4 509.1,98.4C509.8,98.3 510.5,98.3 511.1,98.2C511.8,98.1 512.5,98.1 513.1,98.1C513.8,98.0 514.5,98.0 515.1,97.9C515.8,97.9 516.5,97.8 517.1,97.8C517.8,97.8 518.5,97.7 519.2,97.7C519.8,97.7 520.5,97.7 521.2,97.6C521.8,97.6 522.5,97.6 523.2,97.6C523.8,97.5 524.5,97.5 525.2,97.5C525.8,97.5 526.5,97.5 527.2,97.5C527.8,97.5 528.5,97.4 529.2,97.4C529.8,97.4 530.5,97.4 531.2,97.4C531.8,97.4 532.5,97.4 533.2,97.4C533.9,97.4 534.5,97.4 535.2,97.4C535.9,97.4 536.5,97.4 537.2,97.4C537.9,97.4 538.9,97.4 539.2,97.4" fill="none" stroke="#f29532" stroke-width="1.25" stroke-linejoin="round" stroke-linecap="round"/>
<path d="M328.7,122.3C329.0,122.4 330.0,122.6 330.7,122.8C331.4,123.0 332.0,123.1 332.7,123.3C333.4,123.4 334.0,123.6 334.7,123.7C335.4,123.8 336.1,124.0 336.7,124.1C337.4,124.2 338.1,124.4 338.7,124.5C339.4,124.6 340.1,124.7 340.7,124.8C341.4,125.0 342.1,125.1 342.7,125.2C343.4,125.3 344.1,125.4 344.7,125.5C345.4,125.6 346.1,125.7 346.7,125.7C347.4,125.8 348.1,125.9 348.7,126.0C349.4,126.1 350.1,126.2 350.8,126.2C351.4,126.3 352.1,126.4 352.8,126.5C353.4,126.5 354.1,126.6 354.8,126.6C355.4,126.7 356.1,126.8 356.8,126.8C357.4,126.9 358.1,126.9 358.8,127.0C359.4,127.0 360.1,127.1 360.8,127.1C361.4,127.2 362.1,127.2 362.8,127.3C363.4,127.3 364.1,127.4 364.8,127.4C365.5,127.4 366.1,127.5 366.8,127.5C367.5,127.5 368.1,127.6 368.8,127.6C369.5,127.6 370.1,127.7 370.8,127.7C371.5,127.7 372.1,127.8 372.8,127.8C373.5,127.8 374.1,127.8 374.8,127.9C375.5,127.9 376.1,127.9 376.8,127.9C377.5,128.0 378.2,128.0 378.8,128.0C379.5,128.0 380.2,128.1 380.8,128.1C381.5,128.1 382.2,128.1 382.8,128.1C383.5,128.2 384.2,128.2 384.8,128.2C385.5,128.2 386.2,128.3 386.8,128.3C387.5,128.3 388.2,128.3 388.8,128.4C389.5,128.4 390.2,128.4 390.8,128.4C391.5,128.4 392.2,128.5 392.9,128.5C393.5,128.5 394.2,128.5 394.9,128.6C395.5,128.6 396.2,128.6 396.9,128.6C397.5,128.7 398.2,128.7 398.9,128.7C399.5,128.7 400.2,128.8 400.9,128.8C401.5,128.8 402.2,128.8 402.9,128.8C403.5,128.9 404.2,128.9 404.9,128.9C405.5,128.9 406.2,129.0 406.9,129.0C407.6,129.0 408.2,129.0 408.9,129.0C409.6,129.1 410.2,129.1 410.9,129.1C411.6,129.1 412.2,129.1 412.9,129.2C413.6,129.2 414.2,129.2 414.9,129.2C415.6,129.2 416.2,129.2 416.9,129.3C417.6,129.3 418.2,129.3 418.9,129.3C419.6,129.3 420.3,129.3 420.9,129.3C421.6,129.4 422.3,129.4 422.9,129.4C423.6,129.4 424.3,129.4 424.9,129.4C425.6,129.4 426.3,129.4 426.9,129.4C427.6,129.5 428.3,129.5 428.9,129.5C429.6,129.5 430.3,129.5 430.9,129.5C431.6,129.5 432.3,129.5 432.9,129.5C433.6,129.5 434.3,129.5 435.0,129.5C435.6,129.5 436.3,129.5 437.0,129.5C437.6,129.5 438.3,129.5 439.0,129.5C439.6,129.5 440.3,129.5 441.0,129.5C441.6,129.5 442.3,129.5 443.0,129.5C443.6,129.5 444.3,129.4 445.0,129.4C445.6,129.4 446.3,129.4 447.0,129.4C447.6,129.4 448.3,129.4 449.0,129.3C449.7,129.3 450.3,129.3 451.0,129.3C451.7,129.2 452.3,129.2 453.0,129.2C453.7,129.2 454.3,129.1 455.0,129.1C455.7,129.1 456.3,129.0 457.0,129.0C457.7,129.0 458.3,128.9 459.0,128.9C459.7,128.8 460.3,128.8 461.0,128.8C461.7,128.7 462.4,128.7 463.0,128.6C463.7,128.5 464.4,128.5 465.0,128.4C465.7,128.4 466.4,128.3 467.0,128.2C467.7,128.2 468.4,128.1 469.0,128.0C469.7,128.0 470.4,127.9 471.0,127.8C471.7,127.7 472.4,127.6 473.0,127.5C473.7,127.4 474.4,127.3 475.0,127.2C475.7,127.1 476.4,127.0 477.1,126.9C477.7,126.8 478.4,126.6 479.1,126.5C479.7,126.4 480.4,126.2 481.1,126.1C481.7,125.9 482.4,125.7 483.1,125.6C483.7,125.4 484.4,125.2 485.1,125.0C485.7,124.8 486.4,124.6 487.1,124.4C487.7,124.2 488.4,123.9 489.1,123.7C489.7,123.5 490.4,123.2 491.1,122.9C491.8,122.7 492.4,122.4 493.1,122.1C493.8,121.8 494.4,121.5 495.1,121.2C495.8,120.9 496.4,120.5 497.1,120.2C497.8,119.8 498.4,119.5 499.1,119.1C499.8,118.7 500.4,118.4 501.1,118.0C501.8,117.6 502.4,117.2 503.1,116.8C503.8,116.4 504.5,116.0 505.1,115.6C505.8,115.2 506.5,114.8 507.1,114.3C507.8,113.9 508.5,113.5 509.1,113.1C509.8,112.6 510.5,112.2 511.1,111.8C511.8,111.4 512.5,110.9 513.1,110.5C513.8,110.1 514.5,109.6 515.1,109.2C515.8,108.8 516.5,108.4 517.1,108.0C517.8,107.5 518.5,107.1 519.2,106.7C519.8,106.3 520.5,105.9 521.2,105.5C521.8,105.1 522.5,104.8 523.2,104.4C523.8,104.0 524.5,103.6 525.2,103.3C525.8,102.9 526.5,102.6 527.2,102.3C527.8,101.9 528.5,101.6 529.2,101.3C529.8,101.0 530.5,100.7 531.2,100.5C531.8,100.2 532.5,99.9 533.2,99.7C533.9,99.4 534.5,99.2 535.2,99.0C535.9,98.8 536.5,98.6 537.2,98.5C537.9,98.3 538.9,98.1 539.2,98.0" fill="none" stroke="#2f9233" stroke-width="1.25" stroke-linejoin="round" stroke-linecap="round"/>
<path d="M329.0,98.7C329.3,98.7 330.3,98.6 331.0,98.5C331.7,98.5 332.3,98.4 333.0,98.4C333.7,98.3 334.3,98.3 335.0,98.3C335.7,98.2 336.3,98.2 337.0,98.1C337.7,98.1 338.3,98.0 339.0,98.0C339.7,98.0 340.3,97.9 341.0,97.9C341.7,97.8 342.3,97.8 343.0,97.8C343.7,97.7 344.3,97.7 345.0,97.6C345.7,97.6 346.3,97.6 347.0,97.5C347.7,97.5 348.3,97.5 349.0,97.4C349.7,97.4 350.3,97.4 351.0,97.4C351.7,97.3 352.3,97.3 353.0,97.3C353.7,97.2 354.3,97.2 355.0,97.2C355.7,97.1 356.3,97.1 357.0,97.1C357.7,97.1 358.3,97.0 359.0,97.0C359.7,97.0 360.3,97.0 361.0,97.0C361.7,96.9 362.3,96.9 363.0,96.9C363.7,96.9 364.3,96.8 365.0,96.8C365.7,96.8 366.3,96.8 367.0,96.8C367.7,96.8 368.3,96.7 369.0,96.7C369.7,96.7 370.3,96.7 371.0,96.7C371.7,96.7 372.3,96.6 373.0,96.6C373.7,96.6 374.3,96.6 375.0,96.6C375.7,96.6 376.3,96.6 377.0,96.5C377.7,96.5 378.3,96.5 379.0,96.5C379.7,96.5 380.3,96.5 381.0,96.5C381.7,96.5 382.3,96.5 383.0,96.5C383.7,96.5 384.3,96.4 385.0,96.4C385.7,96.4 386.3,96.4 387.0,96.4C387.7,96.4 388.3,96.4 389.0,96.4C389.7,96.4 390.3,96.4 391.0,96.4C391.7,96.4 392.3,96.4 393.0,96.4C393.7,96.4 394.3,96.4 395.0,96.4C395.7,96.4 396.3,96.4 397.0,96.4C397.7,96.4 398.3,96.4 399.0,96.4C399.7,96.4 400.3,96.4 401.0,96.4C401.7,96.4 402.3,96.4 403.0,96.4C403.7,96.4 404.3,96.4 405.0,96.4C405.7,96.4 406.3,96.4 407.0,96.4C407.7,96.4 408.3,96.4 409.0,96.4C409.7,96.4 410.3,96.4 411.0,96.4C411.7,96.4 412.3,96.4 413.0,96.4C413.7,96.5 414.3,96.5 415.0,96.5C415.7,96.5 416.3,96.5 417.0,96.5C417.7,96.5 418.3,96.5 419.0,96.5C419.7,96.5 420.3,96.5 421.0,96.5C421.7,96.5 422.3,96.6 423.0,96.6C423.7,96.6 424.3,96.6 425.0,96.6C425.7,96.6 426.3,96.6 427.0,96.6C427.7,96.6 428.3,96.6 429.0,96.7C429.7,96.7 430.3,96.7 431.0,96.7C431.7,96.7 432.3,96.7 433.0,96.7C433.7,96.7 434.3,96.7 435.0,96.8C435.7,96.8 436.3,96.8 437.0,96.8C437.7,96.8 438.3,96.8 439.0,96.8C439.7,96.8 440.3,96.8 441.0,96.9C441.7,96.9 442.3,96.9 443.0,96.9C443.7,96.9 444.3,96.9 445.0,96.9C445.7,97.0 446.3,97.0 447.0,97.0C447.7,97.0 448.3,97.0 449.0,97.0C449.7,97.0 450.3,97.0 451.0,97.1C451.7,97.1 452.3,97.1 453.0,97.1C453.7,97.1 454.3,97.1 455.0,97.1C455.7,97.2 456.3,97.2 457.0,97.2C457.7,97.2 458.3,97.2 459.0,97.2C459.7,97.2 460.3,97.2 461.0,97.3C461.7,97.3 462.3,97.3 463.0,97.3C463.7,97.3 464.3,97.3 465.0,97.3C465.7,97.3 466.3,97.4 467.0,97.4C467.7,97.4 468.3,97.4 469.0,97.4C469.7,97.4 470.3,97.4 471.0,97.5C471.7,97.5 472.3,97.5 473.0,97.5C473.7,97.5 474.3,97.5 475.0,97.5C475.7,97.5 476.3,97.5 477.0,97.6C477.7,97.6 478.3,97.6 479.0,97.6C479.7,97.6 480.3,97.6 481.0,97.6C481.7,97.6 482.3,97.6 483.0,97.7C483.7,97.7 484.3,97.7 485.0,97.7C485.7,97.7 486.3,97.7 487.0,97.7C487.7,97.7 488.3,97.7 489.0,97.7C489.7,97.8 490.3,97.8 491.0,97.8C491.7,97.8 492.3,97.8 493.0,97.8C493.7,97.8 494.3,97.8 495.0,97.8C495.7,97.8 496.3,97.8 497.0,97.8C497.7,97.8 498.3,97.9 499.0,97.9C499.7,97.9 500.3,97.9 501.0,97.9C501.7,97.9 502.3,97.9 503.0,97.9C503.7,97.9 504.3,97.9 505.0,97.9C505.7,97.9 506.3,97.9 507.0,97.9C507.7,97.9 508.3,97.9 509.0,97.9C509.7,97.9 510.3,97.9 511.0,97.9C511.7,97.9 512.3,97.9 513.0,97.9C513.7,97.9 514.3,97.9 515.0,97.9C515.7,97.9 516.3,97.9 517.0,97.9C517.7,97.9 518.3,97.9 519.0,97.9C519.7,97.9 520.3,97.9 521.0,97.9C521.7,97.9 522.3,97.9 523.0,97.9C523.7,97.9 524.3,97.9 525.0,97.9C525.7,97.9 526.3,97.9 527.0,97.9C527.7,97.8 528.3,97.8 529.0,97.8C529.7,97.8 530.3,97.8 531.0,97.8C531.7,97.8 532.3,97.8 533.0,97.8C533.7,97.8 534.3,97.8 535.0,97.7C535.7,97.7 536.3,97.7 537.0,97.7C537.7,97.7 538.7,97.7 539.0,97.7" fill="none" stroke="#3429a2" stroke-width="1.25" stroke-linejoin="round" stroke-linecap="round"/>
<rect x="328.50" y="19.30" width="213.80" height="136.20" fill="none" stroke="#5a5a5a" stroke-width="1.25"/>
<text x="351.60" y="58.00" class="cl" textLength="36.3" lengthAdjust="spacingAndGlyphs">590 nm</text>
<text x="407.60" y="89.00" class="cl" textLength="36.3" lengthAdjust="spacingAndGlyphs">410 nm</text>
<text x="449.40" y="122.40" class="cl" textLength="36.3" lengthAdjust="spacingAndGlyphs">550 nm</text>
<text x="449.00" y="142.60" class="cl" textLength="36.3" lengthAdjust="spacingAndGlyphs">510 nm</text>
<text x="527.00" y="149.30" class="pl">B</text>
<text x="537.80" y="12.60" class="ti" text-anchor="end" textLength="67.9" lengthAdjust="spacingAndGlyphs">ESR-Cherry</text>
<text x="409.00" y="182.80" class="ax">Time, s</text>
<path d="M286.90,104.60 L296.40,101.00" stroke="#000" stroke-width="1.8" stroke-linecap="round"/>
<path d="M286.90,104.60 L296.40,108.70 L296.40,101.00" fill="none" stroke="#222" stroke-width="0.75" stroke-linejoin="miter"/>
<text transform="translate(297.10,99.80) rotate(-90)" x="0" y="0" class="ax" textLength="43.0" lengthAdjust="spacingAndGlyphs">A, OD</text>
<line x1="48.00" y1="285.50" x2="265.00" y2="285.50" stroke="#858585" stroke-width="1.25"/>
<line x1="47.90" y1="217.00" x2="50.50" y2="217.00" stroke="#555" stroke-width="1"/>
<text x="45.80" y="218.85" class="yl">0.020</text>
<line x1="48.90" y1="225.57" x2="50.50" y2="225.57" stroke="#555" stroke-width="1"/>
<line x1="47.90" y1="234.15" x2="50.50" y2="234.15" stroke="#555" stroke-width="1"/>
<text x="45.80" y="236.00" class="yl">0.015</text>
<line x1="48.90" y1="242.73" x2="50.50" y2="242.73" stroke="#555" stroke-width="1"/>
<line x1="47.90" y1="251.30" x2="50.50" y2="251.30" stroke="#555" stroke-width="1"/>
<text x="45.80" y="253.15" class="yl">0.010</text>
<line x1="48.90" y1="259.88" x2="50.50" y2="259.88" stroke="#555" stroke-width="1"/>
<line x1="47.90" y1="268.45" x2="50.50" y2="268.45" stroke="#555" stroke-width="1"/>
<text x="45.80" y="270.30" class="yl">0.005</text>
<line x1="48.90" y1="277.02" x2="50.50" y2="277.02" stroke="#555" stroke-width="1"/>
<line x1="47.90" y1="285.60" x2="50.50" y2="285.60" stroke="#555" stroke-width="1"/>
<text x="45.80" y="287.45" class="yl">0.000</text>
<line x1="48.90" y1="294.18" x2="50.50" y2="294.18" stroke="#555" stroke-width="1"/>
<line x1="47.90" y1="302.75" x2="50.50" y2="302.75" stroke="#555" stroke-width="1"/>
<text x="45.80" y="304.60" class="yl">−<tspan dx="1.3">0.005</tspan></text>
<line x1="48.90" y1="311.32" x2="50.50" y2="311.32" stroke="#555" stroke-width="1"/>
<line x1="47.90" y1="319.90" x2="50.50" y2="319.90" stroke="#555" stroke-width="1"/>
<text x="45.80" y="321.75" class="yl">−<tspan dx="1.3">0.010</tspan></text>
<line x1="48.90" y1="328.48" x2="50.50" y2="328.48" stroke="#555" stroke-width="1"/>
<line x1="47.90" y1="337.05" x2="50.50" y2="337.05" stroke="#555" stroke-width="1"/>
<text x="45.80" y="338.90" class="yl">−<tspan dx="1.3">0.015</tspan></text>
<line x1="48.90" y1="345.62" x2="50.50" y2="345.62" stroke="#555" stroke-width="1"/>
<line x1="47.90" y1="354.20" x2="50.50" y2="354.20" stroke="#555" stroke-width="1"/>
<text x="45.80" y="356.05" class="yl">−<tspan dx="1.3">0.020</tspan></text>
<line x1="54.64" y1="354.20" x2="54.64" y2="355.90" stroke="#555" stroke-width="1"/>
<line x1="58.07" y1="354.20" x2="58.07" y2="355.90" stroke="#555" stroke-width="1"/>
<line x1="61.04" y1="354.20" x2="61.04" y2="355.90" stroke="#555" stroke-width="1"/>
<line x1="63.66" y1="354.20" x2="63.66" y2="355.90" stroke="#555" stroke-width="1"/>
<line x1="66.00" y1="354.20" x2="66.00" y2="357.00" stroke="#555" stroke-width="1"/>
<line x1="81.41" y1="354.20" x2="81.41" y2="355.90" stroke="#555" stroke-width="1"/>
<line x1="90.43" y1="354.20" x2="90.43" y2="355.90" stroke="#555" stroke-width="1"/>
<line x1="96.83" y1="354.20" x2="96.83" y2="355.90" stroke="#555" stroke-width="1"/>
<line x1="101.79" y1="354.20" x2="101.79" y2="355.90" stroke="#555" stroke-width="1"/>
<line x1="105.84" y1="354.20" x2="105.84" y2="355.90" stroke="#555" stroke-width="1"/>
<line x1="109.27" y1="354.20" x2="109.27" y2="355.90" stroke="#555" stroke-width="1"/>
<line x1="112.24" y1="354.20" x2="112.24" y2="355.90" stroke="#555" stroke-width="1"/>
<line x1="114.86" y1="354.20" x2="114.86" y2="355.90" stroke="#555" stroke-width="1"/>
<line x1="117.20" y1="354.20" x2="117.20" y2="357.00" stroke="#555" stroke-width="1"/>
<line x1="132.61" y1="354.20" x2="132.61" y2="355.90" stroke="#555" stroke-width="1"/>
<line x1="141.63" y1="354.20" x2="141.63" y2="355.90" stroke="#555" stroke-width="1"/>
<line x1="148.03" y1="354.20" x2="148.03" y2="355.90" stroke="#555" stroke-width="1"/>
<line x1="152.99" y1="354.20" x2="152.99" y2="355.90" stroke="#555" stroke-width="1"/>
<line x1="157.04" y1="354.20" x2="157.04" y2="355.90" stroke="#555" stroke-width="1"/>
<line x1="160.47" y1="354.20" x2="160.47" y2="355.90" stroke="#555" stroke-width="1"/>
<line x1="163.44" y1="354.20" x2="163.44" y2="355.90" stroke="#555" stroke-width="1"/>
<line x1="166.06" y1="354.20" x2="166.06" y2="355.90" stroke="#555" stroke-width="1"/>
<line x1="168.40" y1="354.20" x2="168.40" y2="357.00" stroke="#555" stroke-width="1"/>
<line x1="183.81" y1="354.20" x2="183.81" y2="355.90" stroke="#555" stroke-width="1"/>
<line x1="192.83" y1="354.20" x2="192.83" y2="355.90" stroke="#555" stroke-width="1"/>
<line x1="199.23" y1="354.20" x2="199.23" y2="355.90" stroke="#555" stroke-width="1"/>
<line x1="204.19" y1="354.20" x2="204.19" y2="355.90" stroke="#555" stroke-width="1"/>
<line x1="208.24" y1="354.20" x2="208.24" y2="355.90" stroke="#555" stroke-width="1"/>
<line x1="211.67" y1="354.20" x2="211.67" y2="355.90" stroke="#555" stroke-width="1"/>
<line x1="214.64" y1="354.20" x2="214.64" y2="355.90" stroke="#555" stroke-width="1"/>
<line x1="217.26" y1="354.20" x2="217.26" y2="355.90" stroke="#555" stroke-width="1"/>
<line x1="219.60" y1="354.20" x2="219.60" y2="357.00" stroke="#555" stroke-width="1"/>
<line x1="235.01" y1="354.20" x2="235.01" y2="355.90" stroke="#555" stroke-width="1"/>
<line x1="244.03" y1="354.20" x2="244.03" y2="355.90" stroke="#555" stroke-width="1"/>
<line x1="250.43" y1="354.20" x2="250.43" y2="355.90" stroke="#555" stroke-width="1"/>
<line x1="255.39" y1="354.20" x2="255.39" y2="355.90" stroke="#555" stroke-width="1"/>
<line x1="259.44" y1="354.20" x2="259.44" y2="355.90" stroke="#555" stroke-width="1"/>
<line x1="262.87" y1="354.20" x2="262.87" y2="355.90" stroke="#555" stroke-width="1"/>
<text x="61.30" y="365.60" class="xl">10<tspan class="sup" dy="-3.6">-5</tspan></text>
<text x="112.50" y="365.60" class="xl">10<tspan class="sup" dy="-3.6">-4</tspan></text>
<text x="163.70" y="365.60" class="xl">10<tspan class="sup" dy="-3.6">-3</tspan></text>
<text x="214.90" y="365.60" class="xl">10<tspan class="sup" dy="-3.6">-2</tspan></text>
<path d="M56.9,280.3V290.1M59.8,280.0V287.9M62.2,279.6V287.6M65.5,280.8V285.7M67.9,277.8V286.8M70.1,277.0V287.5M73.2,278.1V284.1M75.4,278.3V283.5M77.9,279.2V283.1M80.8,278.3V285.7M83.7,277.6V284.2M86.8,278.1V283.2M90.4,276.3V284.7M93.6,278.3V282.5M96.2,279.0V283.9M99.0,276.7V282.6M102.5,276.6V281.3M105.0,276.5V282.4M108.6,277.8V281.2M111.7,276.8V281.5M114.0,277.8V283.0M117.2,278.3V281.1M119.6,278.3V282.1M122.0,277.3V281.2M124.5,276.9V280.5M127.6,278.2V280.9" fill="none" stroke="#c8c8c8" stroke-width="0.9" stroke-dasharray="1 1.4" opacity="0.85"/>
<path d="M50.7,247.2C51.0,247.4 52.0,247.9 52.7,248.3C53.4,248.6 54.0,249.0 54.7,249.3C55.4,249.7 56.1,250.0 56.7,250.3C57.4,250.6 58.1,250.9 58.7,251.2C59.4,251.5 60.1,251.8 60.7,252.1C61.4,252.4 62.1,252.6 62.7,252.9C63.4,253.2 64.1,253.4 64.8,253.6C65.4,253.9 66.1,254.1 66.8,254.3C67.4,254.5 68.1,254.8 68.8,255.0C69.4,255.2 70.1,255.3 70.8,255.5C71.4,255.7 72.1,255.9 72.8,256.0C73.5,256.2 74.1,256.4 74.8,256.5C75.5,256.7 76.1,256.8 76.8,256.9C77.5,257.1 78.1,257.2 78.8,257.3C79.5,257.4 80.1,257.5 80.8,257.6C81.5,257.7 82.2,257.8 82.8,257.9C83.5,257.9 84.2,258.0 84.8,258.1C85.5,258.1 86.2,258.2 86.8,258.2C87.5,258.3 88.2,258.3 88.8,258.4C89.5,258.4 90.2,258.5 90.9,258.5C91.5,258.5 92.2,258.5 92.9,258.6C93.5,258.6 94.2,258.6 94.9,258.6C95.5,258.6 96.2,258.6 96.9,258.6C97.5,258.6 98.2,258.6 98.9,258.6C99.6,258.6 100.2,258.6 100.9,258.6C101.6,258.6 102.2,258.6 102.9,258.6C103.6,258.6 104.2,258.6 104.9,258.6C105.6,258.5 106.2,258.5 106.9,258.5C107.6,258.5 108.2,258.5 108.9,258.5C109.6,258.4 110.3,258.4 110.9,258.4C111.6,258.4 112.3,258.4 112.9,258.3C113.6,258.3 114.3,258.3 114.9,258.3C115.6,258.3 116.3,258.2 116.9,258.2C117.6,258.2 118.3,258.2 119.0,258.2C119.6,258.1 120.3,258.1 121.0,258.1C121.6,258.0 122.3,258.0 123.0,258.0C123.6,257.9 124.3,257.9 125.0,257.9C125.6,257.8 126.3,257.8 127.0,257.7C127.7,257.7 128.3,257.6 129.0,257.6C129.7,257.5 130.3,257.5 131.0,257.4C131.7,257.3 132.3,257.3 133.0,257.2C133.7,257.1 134.3,257.1 135.0,257.0C135.7,256.9 136.4,256.8 137.0,256.7C137.7,256.6 138.4,256.5 139.0,256.4C139.7,256.3 140.4,256.2 141.0,256.1C141.7,255.9 142.4,255.8 143.0,255.7C143.7,255.5 144.4,255.4 145.1,255.2C145.7,255.1 146.4,254.9 147.1,254.8C147.7,254.6 148.4,254.4 149.1,254.2C149.7,254.1 150.4,253.9 151.1,253.7C151.7,253.5 152.4,253.3 153.1,253.0C153.8,252.8 154.4,252.6 155.1,252.4C155.8,252.1 156.4,251.9 157.1,251.6C157.8,251.3 158.4,251.1 159.1,250.8C159.8,250.5 160.4,250.2 161.1,249.9C161.8,249.6 162.5,249.3 163.1,249.0C163.8,248.7 164.5,248.4 165.1,248.1C165.8,247.8 166.5,247.5 167.1,247.1C167.8,246.8 168.5,246.5 169.1,246.1C169.8,245.8 170.5,245.5 171.2,245.1C171.8,244.8 172.5,244.4 173.2,244.1C173.8,243.7 174.5,243.4 175.2,243.0C175.8,242.7 176.5,242.4 177.2,242.0C177.8,241.7 178.5,241.3 179.2,241.0C179.9,240.6 180.5,240.3 181.2,240.0C181.9,239.6 182.5,239.3 183.2,238.9C183.9,238.6 184.5,238.3 185.2,238.0C185.9,237.6 186.5,237.3 187.2,237.0C187.9,236.7 188.6,236.4 189.2,236.1C189.9,235.8 190.6,235.5 191.2,235.2C191.9,234.9 192.6,234.6 193.2,234.4C193.9,234.1 194.6,233.8 195.2,233.6C195.9,233.3 196.6,233.1 197.3,232.8C197.9,232.6 198.6,232.3 199.3,232.1C199.9,231.9 200.6,231.7 201.3,231.5C201.9,231.2 202.6,231.0 203.3,230.9C203.9,230.7 204.6,230.5 205.3,230.4C206.0,230.2 206.6,230.1 207.3,230.0C208.0,230.0 208.6,229.9 209.3,229.9C210.0,229.9 210.6,229.9 211.3,229.9C212.0,230.0 212.6,230.1 213.3,230.2C214.0,230.3 214.6,230.5 215.3,230.7C216.0,230.9 216.7,231.2 217.3,231.5C218.0,231.8 218.7,232.1 219.3,232.5C220.0,232.9 220.7,233.3 221.3,233.8C222.0,234.3 222.7,234.8 223.3,235.4C224.0,236.0 224.7,236.6 225.4,237.3C226.0,238.0 226.7,238.8 227.4,239.6C228.0,240.4 228.7,241.3 229.4,242.2C230.0,243.0 230.7,244.0 231.4,245.0C232.0,245.9 232.7,246.9 233.4,247.9C234.1,249.0 234.7,250.0 235.4,251.1C236.1,252.1 236.7,253.2 237.4,254.3C238.1,255.3 238.7,256.4 239.4,257.5C240.1,258.6 240.7,259.6 241.4,260.7C242.1,261.7 242.8,262.8 243.4,263.8C244.1,264.8 244.8,265.8 245.4,266.8C246.1,267.7 246.8,268.7 247.4,269.6C248.1,270.4 248.8,271.3 249.4,272.1C250.1,272.9 250.8,273.6 251.5,274.3C252.1,275.0 252.8,275.6 253.5,276.2C254.1,276.8 254.8,277.3 255.5,277.7C256.1,278.2 256.8,278.6 257.5,279.0C258.1,279.4 258.8,279.8 259.5,280.2C260.2,280.6 260.8,280.9 261.5,281.3C262.2,281.7 263.2,282.3 263.5,282.5" fill="none" stroke="#9e2430" stroke-width="1.25" stroke-linejoin="round" stroke-linecap="round"/>
<path d="M50.8,288.7C51.1,289.0 52.1,289.7 52.8,290.1C53.5,290.6 54.1,291.0 54.8,291.4C55.5,291.9 56.1,292.3 56.8,292.7C57.5,293.1 58.1,293.4 58.8,293.8C59.5,294.2 60.1,294.5 60.8,294.9C61.5,295.2 62.1,295.5 62.8,295.9C63.5,296.2 64.1,296.5 64.8,296.8C65.5,297.1 66.1,297.4 66.8,297.6C67.5,297.9 68.1,298.2 68.8,298.4C69.5,298.7 70.2,298.9 70.8,299.2C71.5,299.4 72.2,299.6 72.8,299.9C73.5,300.1 74.2,300.3 74.8,300.5C75.5,300.7 76.2,300.9 76.8,301.1C77.5,301.3 78.2,301.5 78.8,301.6C79.5,301.8 80.2,302.0 80.8,302.1C81.5,302.3 82.2,302.5 82.8,302.6C83.5,302.8 84.2,302.9 84.8,303.1C85.5,303.2 86.2,303.3 86.8,303.5C87.5,303.6 88.2,303.7 88.8,303.8C89.5,304.0 90.2,304.1 90.8,304.2C91.5,304.3 92.2,304.4 92.8,304.6C93.5,304.7 94.2,304.8 94.8,304.9C95.5,305.0 96.2,305.1 96.8,305.2C97.5,305.3 98.2,305.4 98.8,305.5C99.5,305.6 100.2,305.7 100.8,305.8C101.5,305.9 102.2,306.1 102.8,306.2C103.5,306.3 104.2,306.4 104.9,306.5C105.5,306.6 106.2,306.7 106.9,306.8C107.5,306.9 108.2,307.0 108.9,307.1C109.5,307.2 110.2,307.3 110.9,307.4C111.5,307.5 112.2,307.6 112.9,307.7C113.5,307.8 114.2,307.9 114.9,308.0C115.5,308.1 116.2,308.2 116.9,308.3C117.5,308.4 118.2,308.5 118.9,308.6C119.5,308.7 120.2,308.8 120.9,308.9C121.5,309.0 122.2,309.1 122.9,309.2C123.5,309.3 124.2,309.4 124.9,309.4C125.5,309.5 126.2,309.6 126.9,309.7C127.5,309.8 128.2,309.9 128.9,309.9C129.5,310.0 130.2,310.1 130.9,310.2C131.5,310.2 132.2,310.3 132.9,310.3C133.5,310.4 134.2,310.5 134.9,310.5C135.5,310.5 136.2,310.6 136.9,310.6C137.5,310.6 138.2,310.6 138.9,310.6C139.6,310.6 140.2,310.6 140.9,310.5C141.6,310.5 142.2,310.4 142.9,310.4C143.6,310.3 144.2,310.2 144.9,310.2C145.6,310.1 146.2,310.0 146.9,309.9C147.6,309.8 148.2,309.7 148.9,309.5C149.6,309.4 150.2,309.3 150.9,309.1C151.6,309.0 152.2,308.9 152.9,308.7C153.6,308.6 154.2,308.4 154.9,308.2C155.6,308.1 156.2,307.9 156.9,307.7C157.6,307.6 158.2,307.4 158.9,307.2C159.6,307.0 160.2,306.8 160.9,306.7C161.6,306.5 162.2,306.3 162.9,306.1C163.6,305.9 164.2,305.7 164.9,305.5C165.6,305.3 166.2,305.1 166.9,304.9C167.6,304.7 168.2,304.5 168.9,304.3C169.6,304.1 170.2,303.9 170.9,303.7C171.6,303.5 172.2,303.3 172.9,303.1C173.6,302.8 174.2,302.6 174.9,302.4C175.6,302.2 176.3,302.0 176.9,301.8C177.6,301.5 178.3,301.3 178.9,301.1C179.6,300.9 180.3,300.7 180.9,300.5C181.6,300.2 182.3,300.0 182.9,299.8C183.6,299.6 184.3,299.4 184.9,299.1C185.6,298.9 186.3,298.7 186.9,298.5C187.6,298.3 188.3,298.0 188.9,297.8C189.6,297.6 190.3,297.4 190.9,297.2C191.6,297.0 192.3,296.7 192.9,296.5C193.6,296.3 194.3,296.1 194.9,295.9C195.6,295.7 196.3,295.5 196.9,295.2C197.6,295.0 198.3,294.8 198.9,294.6C199.6,294.4 200.3,294.2 200.9,294.0C201.6,293.8 202.3,293.6 202.9,293.4C203.6,293.2 204.3,293.0 204.9,292.8C205.6,292.6 206.3,292.4 206.9,292.3C207.6,292.1 208.3,291.9 208.9,291.7C209.6,291.5 210.3,291.3 211.0,291.2C211.6,291.0 212.3,290.8 213.0,290.6C213.6,290.5 214.3,290.3 215.0,290.2C215.6,290.0 216.3,289.8 217.0,289.7C217.6,289.5 218.3,289.4 219.0,289.2C219.6,289.1 220.3,288.9 221.0,288.8C221.6,288.7 222.3,288.5 223.0,288.4C223.6,288.3 224.3,288.2 225.0,288.0C225.6,287.9 226.3,287.8 227.0,287.7C227.6,287.6 228.3,287.5 229.0,287.4C229.6,287.2 230.3,287.1 231.0,287.1C231.6,287.0 232.3,286.9 233.0,286.8C233.6,286.7 234.3,286.6 235.0,286.5C235.6,286.4 236.3,286.4 237.0,286.3C237.6,286.2 238.3,286.2 239.0,286.1C239.6,286.0 240.3,286.0 241.0,285.9C241.6,285.9 242.3,285.8 243.0,285.8C243.6,285.7 244.3,285.7 245.0,285.7C245.7,285.6 246.3,285.6 247.0,285.6C247.7,285.5 248.3,285.5 249.0,285.5C249.7,285.5 250.3,285.5 251.0,285.4C251.7,285.4 252.3,285.4 253.0,285.4C253.7,285.4 254.3,285.4 255.0,285.4C255.7,285.5 256.3,285.5 257.0,285.5C257.7,285.5 258.3,285.5 259.0,285.6C259.7,285.6 260.3,285.6 261.0,285.7C261.7,285.7 262.7,285.8 263.0,285.8" fill="none" stroke="#f29532" stroke-width="1.25" stroke-linejoin="round" stroke-linecap="round"/>
<path d="M50.8,315.4C51.1,315.5 52.1,315.8 52.8,316.0C53.5,316.2 54.1,316.4 54.8,316.6C55.5,316.8 56.2,317.0 56.8,317.1C57.5,317.3 58.2,317.5 58.8,317.7C59.5,317.9 60.2,318.0 60.8,318.2C61.5,318.4 62.2,318.5 62.8,318.7C63.5,318.9 64.2,319.1 64.8,319.2C65.5,319.4 66.2,319.5 66.9,319.7C67.5,319.9 68.2,320.0 68.9,320.2C69.5,320.3 70.2,320.5 70.9,320.6C71.5,320.8 72.2,320.9 72.9,321.1C73.5,321.2 74.2,321.4 74.9,321.5C75.5,321.7 76.2,321.8 76.9,322.0C77.6,322.1 78.2,322.2 78.9,322.4C79.6,322.5 80.2,322.7 80.9,322.8C81.6,322.9 82.2,323.1 82.9,323.2C83.6,323.3 84.2,323.5 84.9,323.6C85.6,323.7 86.2,323.9 86.9,324.0C87.6,324.1 88.3,324.3 88.9,324.4C89.6,324.5 90.3,324.6 90.9,324.8C91.6,324.9 92.3,325.0 92.9,325.1C93.6,325.3 94.3,325.4 94.9,325.5C95.6,325.6 96.3,325.7 97.0,325.9C97.6,326.0 98.3,326.1 99.0,326.2C99.6,326.3 100.3,326.5 101.0,326.6C101.6,326.7 102.3,326.8 103.0,326.9C103.6,327.1 104.3,327.2 105.0,327.3C105.6,327.4 106.3,327.5 107.0,327.6C107.7,327.8 108.3,327.9 109.0,328.0C109.7,328.1 110.3,328.2 111.0,328.3C111.7,328.4 112.3,328.6 113.0,328.7C113.7,328.8 114.3,328.9 115.0,329.0C115.7,329.1 116.3,329.3 117.0,329.4C117.7,329.5 118.4,329.6 119.0,329.7C119.7,329.8 120.4,330.0 121.0,330.1C121.7,330.2 122.4,330.3 123.0,330.4C123.7,330.5 124.4,330.6 125.0,330.8C125.7,330.9 126.4,331.0 127.1,331.1C127.7,331.2 128.4,331.3 129.1,331.4C129.7,331.5 130.4,331.6 131.1,331.6C131.7,331.7 132.4,331.8 133.1,331.9C133.7,332.0 134.4,332.0 135.1,332.1C135.7,332.1 136.4,332.2 137.1,332.2C137.8,332.2 138.4,332.3 139.1,332.3C139.8,332.3 140.4,332.3 141.1,332.3C141.8,332.3 142.4,332.3 143.1,332.3C143.8,332.2 144.4,332.2 145.1,332.1C145.8,332.1 146.4,332.0 147.1,332.0C147.8,331.9 148.5,331.8 149.1,331.8C149.8,331.7 150.5,331.6 151.1,331.5C151.8,331.4 152.5,331.3 153.1,331.2C153.8,331.1 154.5,331.0 155.1,330.9C155.8,330.8 156.5,330.6 157.1,330.5C157.8,330.4 158.5,330.3 159.2,330.1C159.8,330.0 160.5,329.9 161.2,329.8C161.8,329.6 162.5,329.5 163.2,329.4C163.8,329.3 164.5,329.1 165.2,329.0C165.8,328.9 166.5,328.8 167.2,328.6C167.9,328.5 168.5,328.4 169.2,328.3C169.9,328.2 170.5,328.1 171.2,328.0C171.9,327.9 172.5,327.8 173.2,327.7C173.9,327.7 174.5,327.6 175.2,327.5C175.9,327.5 176.5,327.4 177.2,327.4C177.9,327.3 178.6,327.3 179.2,327.3C179.9,327.2 180.6,327.2 181.2,327.2C181.9,327.2 182.6,327.1 183.2,327.1C183.9,327.1 184.6,327.1 185.2,327.1C185.9,327.1 186.6,327.1 187.2,327.0C187.9,327.0 188.6,327.0 189.3,327.0C189.9,327.0 190.6,327.0 191.3,326.9C191.9,326.9 192.6,326.9 193.3,326.9C193.9,326.8 194.6,326.8 195.3,326.7C195.9,326.7 196.6,326.6 197.3,326.6C198.0,326.5 198.6,326.4 199.3,326.4C200.0,326.3 200.6,326.2 201.3,326.1C202.0,326.0 202.6,325.8 203.3,325.7C204.0,325.6 204.6,325.4 205.3,325.3C206.0,325.1 206.6,324.9 207.3,324.7C208.0,324.5 208.7,324.3 209.3,324.1C210.0,323.8 210.7,323.6 211.3,323.3C212.0,323.0 212.7,322.7 213.3,322.4C214.0,322.1 214.7,321.8 215.3,321.4C216.0,321.1 216.7,320.7 217.3,320.3C218.0,319.9 218.7,319.5 219.4,319.0C220.0,318.6 220.7,318.2 221.4,317.7C222.0,317.2 222.7,316.8 223.4,316.3C224.0,315.8 224.7,315.3 225.4,314.8C226.0,314.2 226.7,313.7 227.4,313.2C228.0,312.6 228.7,312.1 229.4,311.5C230.1,310.9 230.7,310.4 231.4,309.8C232.1,309.2 232.7,308.6 233.4,308.0C234.1,307.5 234.7,306.8 235.4,306.2C236.1,305.6 236.7,305.0 237.4,304.4C238.1,303.8 238.8,303.2 239.4,302.6C240.1,302.0 240.8,301.4 241.4,300.8C242.1,300.2 242.8,299.6 243.4,299.0C244.1,298.5 244.8,297.9 245.4,297.3C246.1,296.8 246.8,296.2 247.4,295.7C248.1,295.1 248.8,294.6 249.5,294.1C250.1,293.6 250.8,293.1 251.5,292.6C252.1,292.2 252.8,291.7 253.5,291.3C254.1,290.9 254.8,290.5 255.5,290.1C256.1,289.8 256.8,289.4 257.5,289.1C258.1,288.8 258.8,288.5 259.5,288.2C260.2,288.0 260.8,287.8 261.5,287.6C262.2,287.4 263.2,287.2 263.5,287.2" fill="none" stroke="#2f9233" stroke-width="1.25" stroke-linejoin="round" stroke-linecap="round"/>
<path d="M50.8,286.1C51.1,286.0 52.1,285.8 52.8,285.6C53.5,285.4 54.1,285.3 54.8,285.1C55.5,284.9 56.1,284.8 56.8,284.6C57.5,284.5 58.1,284.3 58.8,284.2C59.5,284.1 60.1,283.9 60.8,283.8C61.5,283.7 62.1,283.6 62.8,283.4C63.5,283.3 64.1,283.2 64.8,283.1C65.5,283.0 66.1,282.9 66.8,282.8C67.5,282.7 68.1,282.6 68.8,282.5C69.5,282.4 70.2,282.3 70.8,282.2C71.5,282.2 72.2,282.1 72.8,282.0C73.5,281.9 74.2,281.8 74.8,281.8C75.5,281.7 76.2,281.6 76.8,281.6C77.5,281.5 78.2,281.4 78.8,281.4C79.5,281.3 80.2,281.3 80.8,281.2C81.5,281.2 82.2,281.1 82.8,281.0C83.5,281.0 84.2,280.9 84.8,280.9C85.5,280.8 86.2,280.8 86.8,280.8C87.5,280.7 88.2,280.7 88.8,280.6C89.5,280.6 90.2,280.5 90.8,280.5C91.5,280.5 92.2,280.4 92.8,280.4C93.5,280.3 94.2,280.3 94.8,280.3C95.5,280.2 96.2,280.2 96.8,280.2C97.5,280.1 98.2,280.1 98.8,280.0C99.5,280.0 100.2,280.0 100.8,280.0C101.5,279.9 102.2,279.9 102.8,279.9C103.5,279.8 104.2,279.8 104.9,279.8C105.5,279.7 106.2,279.7 106.9,279.7C107.5,279.7 108.2,279.6 108.9,279.6C109.5,279.6 110.2,279.6 110.9,279.6C111.5,279.5 112.2,279.5 112.9,279.5C113.5,279.5 114.2,279.5 114.9,279.5C115.5,279.4 116.2,279.4 116.9,279.4C117.5,279.4 118.2,279.4 118.9,279.4C119.5,279.4 120.2,279.4 120.9,279.4C121.5,279.4 122.2,279.4 122.9,279.4C123.5,279.4 124.2,279.4 124.9,279.4C125.5,279.4 126.2,279.4 126.9,279.4C127.5,279.4 128.2,279.4 128.9,279.4C129.5,279.4 130.2,279.4 130.9,279.4C131.5,279.5 132.2,279.5 132.9,279.5C133.5,279.5 134.2,279.5 134.9,279.6C135.5,279.6 136.2,279.6 136.9,279.6C137.5,279.7 138.2,279.7 138.9,279.7C139.6,279.8 140.2,279.8 140.9,279.8C141.6,279.9 142.2,279.9 142.9,280.0C143.6,280.0 144.2,280.1 144.9,280.1C145.6,280.2 146.2,280.2 146.9,280.3C147.6,280.3 148.2,280.4 148.9,280.4C149.6,280.5 150.2,280.5 150.9,280.6C151.6,280.7 152.2,280.7 152.9,280.8C153.6,280.9 154.2,281.0 154.9,281.0C155.6,281.1 156.2,281.2 156.9,281.2C157.6,281.3 158.2,281.4 158.9,281.5C159.6,281.6 160.2,281.6 160.9,281.7C161.6,281.8 162.2,281.9 162.9,282.0C163.6,282.0 164.2,282.1 164.9,282.2C165.6,282.3 166.2,282.4 166.9,282.5C167.6,282.6 168.2,282.7 168.9,282.7C169.6,282.8 170.2,282.9 170.9,283.0C171.6,283.1 172.2,283.2 172.9,283.3C173.6,283.4 174.2,283.4 174.9,283.5C175.6,283.6 176.3,283.7 176.9,283.8C177.6,283.9 178.3,284.0 178.9,284.0C179.6,284.1 180.3,284.2 180.9,284.3C181.6,284.4 182.3,284.5 182.9,284.5C183.6,284.6 184.3,284.7 184.9,284.8C185.6,284.9 186.3,284.9 186.9,285.0C187.6,285.1 188.3,285.2 188.9,285.2C189.6,285.3 190.3,285.4 190.9,285.4C191.6,285.5 192.3,285.6 192.9,285.6C193.6,285.7 194.3,285.8 194.9,285.8C195.6,285.9 196.3,285.9 196.9,286.0C197.6,286.0 198.3,286.1 198.9,286.1C199.6,286.2 200.3,286.2 200.9,286.3C201.6,286.3 202.3,286.3 202.9,286.4C203.6,286.4 204.3,286.4 204.9,286.5C205.6,286.5 206.3,286.5 206.9,286.5C207.6,286.6 208.3,286.6 208.9,286.6C209.6,286.6 210.3,286.6 211.0,286.7C211.6,286.7 212.3,286.7 213.0,286.7C213.6,286.7 214.3,286.7 215.0,286.7C215.6,286.7 216.3,286.7 217.0,286.7C217.6,286.7 218.3,286.7 219.0,286.7C219.6,286.7 220.3,286.7 221.0,286.7C221.6,286.7 222.3,286.7 223.0,286.7C223.6,286.7 224.3,286.7 225.0,286.7C225.6,286.7 226.3,286.6 227.0,286.6C227.6,286.6 228.3,286.6 229.0,286.6C229.6,286.6 230.3,286.6 231.0,286.5C231.6,286.5 232.3,286.5 233.0,286.5C233.6,286.5 234.3,286.4 235.0,286.4C235.6,286.4 236.3,286.4 237.0,286.4C237.6,286.3 238.3,286.3 239.0,286.3C239.6,286.3 240.3,286.3 241.0,286.2C241.6,286.2 242.3,286.2 243.0,286.2C243.6,286.2 244.3,286.1 245.0,286.1C245.7,286.1 246.3,286.1 247.0,286.1C247.7,286.0 248.3,286.0 249.0,286.0C249.7,286.0 250.3,286.0 251.0,286.0C251.7,285.9 252.3,285.9 253.0,285.9C253.7,285.9 254.3,285.9 255.0,285.9C255.7,285.8 256.3,285.8 257.0,285.8C257.7,285.8 258.3,285.8 259.0,285.8C259.7,285.8 260.3,285.8 261.0,285.8C261.7,285.8 262.7,285.8 263.0,285.8" fill="none" stroke="#3429a2" stroke-width="1.25" stroke-linejoin="round" stroke-linecap="round"/>
<rect x="50.50" y="217.00" width="214.50" height="137.20" fill="none" stroke="#5a5a5a" stroke-width="1.25"/>
<text x="139.60" y="236.60" class="cl" textLength="36.3" lengthAdjust="spacingAndGlyphs">590 nm</text>
<text x="139.60" y="274.50" class="cl" textLength="36.3" lengthAdjust="spacingAndGlyphs">410 nm</text>
<text x="103.60" y="301.00" class="cl" textLength="36.3" lengthAdjust="spacingAndGlyphs">550 nm</text>
<text x="102.40" y="344.00" class="cl" textLength="36.3" lengthAdjust="spacingAndGlyphs">510 nm</text>
<text x="246.80" y="349.00" class="pl">C</text>
<text x="256.10" y="209.40" class="ti" text-anchor="end" textLength="47.1" lengthAdjust="spacingAndGlyphs">ESR-Trx</text>
<text x="133.40" y="387.30" class="ax">Time, s</text>
<path d="M6.90,313.40 L16.40,309.80" stroke="#000" stroke-width="1.8" stroke-linecap="round"/>
<path d="M6.90,313.40 L16.40,317.50 L16.40,309.80" fill="none" stroke="#222" stroke-width="0.75" stroke-linejoin="miter"/>
<text transform="translate(17.10,308.60) rotate(-90)" x="0" y="0" class="ax" textLength="43.0" lengthAdjust="spacingAndGlyphs">A, OD</text>
<line x1="326.00" y1="286.90" x2="542.60" y2="286.90" stroke="#858585" stroke-width="1.25"/>
<line x1="325.90" y1="218.30" x2="328.50" y2="218.30" stroke="#555" stroke-width="1"/>
<text x="323.70" y="220.15" class="yl">0.010</text>
<line x1="326.90" y1="235.45" x2="328.50" y2="235.45" stroke="#555" stroke-width="1"/>
<line x1="325.90" y1="252.60" x2="328.50" y2="252.60" stroke="#555" stroke-width="1"/>
<text x="323.70" y="254.45" class="yl">0.005</text>
<line x1="326.90" y1="269.75" x2="328.50" y2="269.75" stroke="#555" stroke-width="1"/>
<line x1="325.90" y1="286.90" x2="328.50" y2="286.90" stroke="#555" stroke-width="1"/>
<text x="323.70" y="288.75" class="yl">0.000</text>
<line x1="326.90" y1="304.05" x2="328.50" y2="304.05" stroke="#555" stroke-width="1"/>
<line x1="325.90" y1="321.20" x2="328.50" y2="321.20" stroke="#555" stroke-width="1"/>
<text x="323.70" y="323.05" class="yl">−<tspan dx="1.3">0.005</tspan></text>
<line x1="326.90" y1="338.35" x2="328.50" y2="338.35" stroke="#555" stroke-width="1"/>
<line x1="325.90" y1="355.50" x2="328.50" y2="355.50" stroke="#555" stroke-width="1"/>
<text x="323.70" y="357.35" class="yl">−<tspan dx="1.3">0.010</tspan></text>
<line x1="332.77" y1="355.50" x2="332.77" y2="357.20" stroke="#555" stroke-width="1"/>
<line x1="336.16" y1="355.50" x2="336.16" y2="357.20" stroke="#555" stroke-width="1"/>
<line x1="339.10" y1="355.50" x2="339.10" y2="357.20" stroke="#555" stroke-width="1"/>
<line x1="341.68" y1="355.50" x2="341.68" y2="357.20" stroke="#555" stroke-width="1"/>
<line x1="344.00" y1="355.50" x2="344.00" y2="358.30" stroke="#555" stroke-width="1"/>
<line x1="359.23" y1="355.50" x2="359.23" y2="357.20" stroke="#555" stroke-width="1"/>
<line x1="368.14" y1="355.50" x2="368.14" y2="357.20" stroke="#555" stroke-width="1"/>
<line x1="374.46" y1="355.50" x2="374.46" y2="357.20" stroke="#555" stroke-width="1"/>
<line x1="379.37" y1="355.50" x2="379.37" y2="357.20" stroke="#555" stroke-width="1"/>
<line x1="383.37" y1="355.50" x2="383.37" y2="357.20" stroke="#555" stroke-width="1"/>
<line x1="386.76" y1="355.50" x2="386.76" y2="357.20" stroke="#555" stroke-width="1"/>
<line x1="389.70" y1="355.50" x2="389.70" y2="357.20" stroke="#555" stroke-width="1"/>
<line x1="392.28" y1="355.50" x2="392.28" y2="357.20" stroke="#555" stroke-width="1"/>
<line x1="394.60" y1="355.50" x2="394.60" y2="358.30" stroke="#555" stroke-width="1"/>
<line x1="409.83" y1="355.50" x2="409.83" y2="357.20" stroke="#555" stroke-width="1"/>
<line x1="418.74" y1="355.50" x2="418.74" y2="357.20" stroke="#555" stroke-width="1"/>
<line x1="425.06" y1="355.50" x2="425.06" y2="357.20" stroke="#555" stroke-width="1"/>
<line x1="429.97" y1="355.50" x2="429.97" y2="357.20" stroke="#555" stroke-width="1"/>
<line x1="433.97" y1="355.50" x2="433.97" y2="357.20" stroke="#555" stroke-width="1"/>
<line x1="437.36" y1="355.50" x2="437.36" y2="357.20" stroke="#555" stroke-width="1"/>
<line x1="440.30" y1="355.50" x2="440.30" y2="357.20" stroke="#555" stroke-width="1"/>
<line x1="442.88" y1="355.50" x2="442.88" y2="357.20" stroke="#555" stroke-width="1"/>
<line x1="445.20" y1="355.50" x2="445.20" y2="358.30" stroke="#555" stroke-width="1"/>
<line x1="460.43" y1="355.50" x2="460.43" y2="357.20" stroke="#555" stroke-width="1"/>
<line x1="469.34" y1="355.50" x2="469.34" y2="357.20" stroke="#555" stroke-width="1"/>
<line x1="475.66" y1="355.50" x2="475.66" y2="357.20" stroke="#555" stroke-width="1"/>
<line x1="480.57" y1="355.50" x2="480.57" y2="357.20" stroke="#555" stroke-width="1"/>
<line x1="484.57" y1="355.50" x2="484.57" y2="357.20" stroke="#555" stroke-width="1"/>
<line x1="487.96" y1="355.50" x2="487.96" y2="357.20" stroke="#555" stroke-width="1"/>
<line x1="490.90" y1="355.50" x2="490.90" y2="357.20" stroke="#555" stroke-width="1"/>
<line x1="493.48" y1="355.50" x2="493.48" y2="357.20" stroke="#555" stroke-width="1"/>
<line x1="495.80" y1="355.50" x2="495.80" y2="358.30" stroke="#555" stroke-width="1"/>
<line x1="511.03" y1="355.50" x2="511.03" y2="357.20" stroke="#555" stroke-width="1"/>
<line x1="519.94" y1="355.50" x2="519.94" y2="357.20" stroke="#555" stroke-width="1"/>
<line x1="526.26" y1="355.50" x2="526.26" y2="357.20" stroke="#555" stroke-width="1"/>
<line x1="531.17" y1="355.50" x2="531.17" y2="357.20" stroke="#555" stroke-width="1"/>
<line x1="535.17" y1="355.50" x2="535.17" y2="357.20" stroke="#555" stroke-width="1"/>
<line x1="538.56" y1="355.50" x2="538.56" y2="357.20" stroke="#555" stroke-width="1"/>
<line x1="541.50" y1="355.50" x2="541.50" y2="357.20" stroke="#555" stroke-width="1"/>
<text x="339.30" y="366.50" class="xl">10<tspan class="sup" dy="-3.6">-5</tspan></text>
<text x="389.90" y="366.50" class="xl">10<tspan class="sup" dy="-3.6">-4</tspan></text>
<text x="440.50" y="366.50" class="xl">10<tspan class="sup" dy="-3.6">-3</tspan></text>
<text x="491.10" y="366.50" class="xl">10<tspan class="sup" dy="-3.6">-2</tspan></text>
<path d="M332.6,248.5V255.4M334.9,248.5V255.7M337.2,249.9V255.6M340.0,253.1V257.2M342.8,251.5V258.6M345.3,253.0V262.4M348.4,254.6V263.0M350.6,253.3V260.8M353.0,256.2V261.0M356.4,256.1V261.9M359.5,255.5V261.8M361.7,256.7V260.6M364.9,255.3V260.8M367.9,255.2V260.5M371.2,254.3V260.1M374.2,254.8V261.9M377.5,255.3V261.9M379.8,254.8V260.9M382.2,254.5V258.6M385.4,253.5V259.8M388.8,254.6V259.8M391.8,253.6V258.8M395.2,252.4V258.4M398.3,254.5V258.7M401.4,252.0V258.6M404.0,253.3V257.9M406.3,253.0V256.5M408.6,253.7V257.6M411.0,253.1V256.5M414.4,253.2V256.1M417.4,251.2V256.5M420.8,252.0V255.1M423.5,250.3V255.5M332.4,287.7V295.1M335.2,286.8V296.2M337.4,288.4V297.4M340.4,286.6V299.9M343.4,289.1V300.4M345.6,288.1V301.2M349.1,289.3V299.6M351.8,293.2V301.1M354.1,293.8V299.3M356.5,292.9V298.9M358.7,294.0V299.3M361.4,294.9V303.0M364.5,294.7V300.4M367.2,294.0V300.0M370.6,291.7V301.7M373.4,296.0V300.4M376.1,295.6V303.7M378.6,296.9V304.3M381.5,296.8V302.9M383.7,295.6V304.7M387.1,295.4V302.3M389.9,297.8V304.4M392.8,296.0V303.0M395.3,296.2V305.5M398.7,296.7V305.2M401.9,298.9V304.2M404.6,299.7V302.7M407.2,299.2V304.8M410.8,298.7V305.4M414.3,297.2V303.4M416.9,299.2V302.8M419.3,298.0V304.5M422.7,298.4V303.5M332.2,309.0V322.6M335.5,309.8V321.2M337.9,310.4V321.0M341.2,310.5V322.2M344.0,311.2V324.4M346.4,315.9V321.7M349.9,313.1V322.2M353.3,312.9V325.1M356.0,315.5V322.9M358.2,313.7V325.5M361.1,314.3V324.6M364.5,315.2V323.8M367.1,317.9V324.0M370.1,318.3V325.0M372.5,315.8V324.8M375.3,317.5V327.2M378.1,316.4V325.7M381.1,318.3V323.9M383.9,319.9V324.0M387.2,320.2V325.9M390.4,319.1V325.4M393.3,319.3V327.2M395.7,319.5V325.3M398.3,319.0V326.3M401.3,319.3V327.7M404.1,320.1V326.4M407.0,320.1V326.3M409.9,321.0V327.9M413.1,320.0V327.8M415.7,321.1V327.8M419.1,322.5V325.5M421.9,322.8V325.8M424.2,321.3V327.2M332.3,275.6V297.4M334.7,274.1V300.2M337.2,273.7V294.6M340.1,273.5V298.5M342.5,278.8V295.4M345.2,281.1V293.5M348.4,282.8V295.4M351.2,282.8V293.3M354.3,278.7V290.9M357.9,276.6V298.3M360.2,281.0V290.5M363.5,281.0V291.0M366.3,276.0V296.2M368.9,281.9V296.7M371.9,277.8V290.1M374.1,277.9V292.4M376.5,276.2V293.8M379.8,282.4V295.0M382.1,277.0V292.0M384.7,279.2V294.9M387.3,282.0V292.0M389.9,282.2V289.5M392.1,281.6V290.3M394.7,278.2V289.9M397.6,281.8V290.1M399.9,281.5V288.1M403.1,279.9V288.9M406.0,277.9V288.4M409.3,280.8V290.3M412.7,281.1V290.1M415.8,278.3V289.1M419.2,279.9V290.3M422.0,281.7V287.5M424.4,283.0V290.4" fill="none" stroke="#c8c8c8" stroke-width="0.9" stroke-dasharray="1 1.4" opacity="0.85"/>
<path d="M328.8,248.2C329.1,248.5 330.1,249.4 330.8,250.0C331.5,250.5 332.1,251.0 332.8,251.5C333.5,252.0 334.1,252.4 334.8,252.9C335.5,253.3 336.1,253.6 336.8,254.0C337.5,254.3 338.1,254.6 338.8,254.9C339.5,255.2 340.1,255.5 340.8,255.7C341.5,256.0 342.1,256.2 342.8,256.4C343.5,256.5 344.1,256.7 344.8,256.9C345.5,257.0 346.1,257.1 346.8,257.3C347.5,257.4 348.2,257.5 348.8,257.6C349.5,257.7 350.2,257.8 350.8,257.8C351.5,257.9 352.2,258.0 352.8,258.0C353.5,258.1 354.2,258.2 354.8,258.2C355.5,258.3 356.2,258.3 356.8,258.3C357.5,258.4 358.2,258.4 358.8,258.4C359.5,258.4 360.2,258.4 360.8,258.5C361.5,258.5 362.2,258.5 362.8,258.5C363.5,258.5 364.2,258.5 364.8,258.4C365.5,258.4 366.2,258.4 366.8,258.4C367.5,258.4 368.2,258.4 368.8,258.3C369.5,258.3 370.2,258.3 370.8,258.2C371.5,258.2 372.2,258.2 372.8,258.1C373.5,258.1 374.2,258.0 374.8,258.0C375.5,257.9 376.2,257.9 376.8,257.8C377.5,257.8 378.2,257.7 378.8,257.7C379.5,257.6 380.2,257.6 380.8,257.5C381.5,257.5 382.2,257.4 382.9,257.3C383.5,257.3 384.2,257.2 384.9,257.2C385.5,257.1 386.2,257.0 386.9,257.0C387.5,256.9 388.2,256.8 388.9,256.8C389.5,256.7 390.2,256.7 390.9,256.6C391.5,256.5 392.2,256.5 392.9,256.4C393.5,256.3 394.2,256.3 394.9,256.2C395.5,256.2 396.2,256.1 396.9,256.0C397.5,256.0 398.2,255.9 398.9,255.8C399.5,255.8 400.2,255.7 400.9,255.6C401.5,255.5 402.2,255.5 402.9,255.4C403.5,255.3 404.2,255.3 404.9,255.2C405.5,255.1 406.2,255.0 406.9,255.0C407.5,254.9 408.2,254.8 408.9,254.7C409.5,254.6 410.2,254.5 410.9,254.5C411.5,254.4 412.2,254.3 412.9,254.2C413.5,254.1 414.2,254.0 414.9,253.9C415.5,253.8 416.2,253.7 416.9,253.6C417.6,253.5 418.2,253.4 418.9,253.3C419.6,253.2 420.2,253.1 420.9,253.0C421.6,252.9 422.2,252.8 422.9,252.7C423.6,252.6 424.2,252.5 424.9,252.4C425.6,252.2 426.2,252.1 426.9,252.0C427.6,251.9 428.2,251.7 428.9,251.6C429.6,251.5 430.2,251.3 430.9,251.2C431.6,251.1 432.2,250.9 432.9,250.8C433.6,250.6 434.2,250.5 434.9,250.3C435.6,250.2 436.2,250.0 436.9,249.9C437.6,249.7 438.2,249.6 438.9,249.4C439.6,249.2 440.2,249.1 440.9,248.9C441.6,248.7 442.2,248.5 442.9,248.4C443.6,248.2 444.2,248.0 444.9,247.8C445.6,247.6 446.2,247.4 446.9,247.2C447.6,247.0 448.2,246.8 448.9,246.6C449.6,246.4 450.2,246.2 450.9,246.0C451.6,245.7 452.2,245.5 452.9,245.3C453.6,245.1 454.3,244.8 454.9,244.6C455.6,244.4 456.3,244.1 456.9,243.9C457.6,243.6 458.3,243.4 458.9,243.2C459.6,242.9 460.3,242.7 460.9,242.5C461.6,242.2 462.3,242.0 462.9,241.8C463.6,241.5 464.3,241.3 464.9,241.1C465.6,240.9 466.3,240.7 466.9,240.5C467.6,240.3 468.3,240.1 468.9,239.9C469.6,239.8 470.3,239.6 470.9,239.4C471.6,239.3 472.3,239.2 472.9,239.0C473.6,238.9 474.3,238.8 474.9,238.7C475.6,238.6 476.3,238.5 476.9,238.5C477.6,238.4 478.3,238.4 478.9,238.4C479.6,238.4 480.3,238.4 480.9,238.4C481.6,238.4 482.3,238.5 482.9,238.6C483.6,238.7 484.3,238.8 484.9,238.9C485.6,239.0 486.3,239.2 486.9,239.4C487.6,239.6 488.3,239.8 489.0,240.0C489.6,240.3 490.3,240.6 491.0,240.9C491.6,241.2 492.3,241.6 493.0,242.0C493.6,242.4 494.3,242.8 495.0,243.3C495.6,243.7 496.3,244.2 497.0,244.8C497.6,245.4 498.3,246.0 499.0,246.6C499.6,247.2 500.3,247.9 501.0,248.6C501.6,249.3 502.3,250.1 503.0,250.8C503.6,251.6 504.3,252.4 505.0,253.2C505.6,254.0 506.3,254.9 507.0,255.7C507.6,256.5 508.3,257.4 509.0,258.2C509.6,259.1 510.3,259.9 511.0,260.8C511.6,261.6 512.3,262.5 513.0,263.3C513.6,264.1 514.3,265.0 515.0,265.8C515.6,266.6 516.3,267.4 517.0,268.2C517.6,269.0 518.3,269.8 519.0,270.6C519.6,271.3 520.3,272.1 521.0,272.8C521.6,273.5 522.3,274.1 523.0,274.8C523.7,275.4 524.3,276.1 525.0,276.6C525.7,277.2 526.3,277.8 527.0,278.3C527.7,278.8 528.3,279.3 529.0,279.8C529.7,280.2 530.3,280.7 531.0,281.1C531.7,281.5 532.3,281.9 533.0,282.3C533.7,282.6 534.3,283.0 535.0,283.3C535.7,283.6 536.3,283.9 537.0,284.2C537.7,284.5 538.3,284.8 539.0,285.1C539.7,285.4 540.7,285.7 541.0,285.9" fill="none" stroke="#9e2430" stroke-width="1.25" stroke-linejoin="round" stroke-linecap="round"/>
<path d="M328.7,290.3C329.0,290.4 330.0,290.7 330.7,290.9C331.4,291.2 332.0,291.4 332.7,291.6C333.4,291.8 334.0,292.0 334.7,292.2C335.4,292.4 336.0,292.6 336.7,292.7C337.4,292.9 338.0,293.1 338.7,293.3C339.4,293.4 340.0,293.6 340.7,293.8C341.4,293.9 342.0,294.1 342.7,294.2C343.4,294.4 344.0,294.5 344.7,294.6C345.4,294.8 346.0,294.9 346.7,295.0C347.4,295.2 348.0,295.3 348.7,295.4C349.4,295.5 350.0,295.6 350.7,295.8C351.4,295.9 352.0,296.0 352.7,296.1C353.4,296.2 354.0,296.3 354.7,296.4C355.4,296.5 356.0,296.6 356.7,296.6C357.4,296.7 358.0,296.8 358.7,296.9C359.4,297.0 360.0,297.1 360.7,297.1C361.4,297.2 362.0,297.3 362.7,297.4C363.4,297.4 364.0,297.5 364.7,297.6C365.3,297.7 366.0,297.7 366.7,297.8C367.3,297.9 368.0,297.9 368.7,298.0C369.3,298.0 370.0,298.1 370.7,298.2C371.3,298.2 372.0,298.3 372.7,298.3C373.3,298.4 374.0,298.5 374.7,298.5C375.3,298.6 376.0,298.6 376.7,298.7C377.3,298.8 378.0,298.8 378.7,298.9C379.3,298.9 380.0,299.0 380.7,299.0C381.3,299.1 382.0,299.2 382.7,299.2C383.3,299.3 384.0,299.4 384.7,299.4C385.3,299.5 386.0,299.5 386.7,299.6C387.3,299.7 388.0,299.7 388.7,299.8C389.3,299.9 390.0,299.9 390.7,300.0C391.3,300.1 392.0,300.1 392.7,300.2C393.3,300.2 394.0,300.3 394.7,300.4C395.3,300.4 396.0,300.5 396.7,300.5C397.3,300.6 398.0,300.7 398.7,300.7C399.3,300.8 400.0,300.8 400.7,300.9C401.3,300.9 402.0,300.9 402.7,301.0C403.3,301.0 404.0,301.1 404.7,301.1C405.3,301.1 406.0,301.2 406.7,301.2C407.3,301.2 408.0,301.2 408.7,301.2C409.3,301.2 410.0,301.3 410.7,301.3C411.3,301.3 412.0,301.3 412.7,301.3C413.3,301.3 414.0,301.2 414.7,301.2C415.3,301.2 416.0,301.2 416.7,301.2C417.3,301.1 418.0,301.1 418.7,301.1C419.3,301.0 420.0,301.0 420.7,301.0C421.3,300.9 422.0,300.9 422.7,300.8C423.3,300.8 424.0,300.7 424.7,300.7C425.3,300.6 426.0,300.6 426.7,300.5C427.3,300.4 428.0,300.4 428.7,300.3C429.3,300.2 430.0,300.1 430.7,300.1C431.3,300.0 432.0,299.9 432.7,299.8C433.3,299.7 434.0,299.6 434.6,299.5C435.3,299.4 436.0,299.4 436.6,299.3C437.3,299.2 438.0,299.1 438.6,299.0C439.3,298.9 440.0,298.7 440.6,298.6C441.3,298.5 442.0,298.4 442.6,298.3C443.3,298.2 444.0,298.1 444.6,298.0C445.3,297.8 446.0,297.7 446.6,297.6C447.3,297.5 448.0,297.3 448.6,297.2C449.3,297.1 450.0,297.0 450.6,296.8C451.3,296.7 452.0,296.6 452.6,296.4C453.3,296.3 454.0,296.2 454.6,296.0C455.3,295.9 456.0,295.8 456.6,295.6C457.3,295.5 458.0,295.3 458.6,295.2C459.3,295.1 460.0,294.9 460.6,294.8C461.3,294.6 462.0,294.5 462.6,294.3C463.3,294.2 464.0,294.1 464.6,293.9C465.3,293.8 466.0,293.6 466.6,293.5C467.3,293.3 468.0,293.2 468.6,293.0C469.3,292.9 470.0,292.7 470.6,292.6C471.3,292.4 472.0,292.3 472.6,292.1C473.3,292.0 474.0,291.8 474.6,291.7C475.3,291.5 476.0,291.4 476.6,291.2C477.3,291.1 478.0,291.0 478.6,290.8C479.3,290.7 480.0,290.5 480.6,290.4C481.3,290.3 482.0,290.1 482.6,290.0C483.3,289.9 484.0,289.7 484.6,289.6C485.3,289.5 486.0,289.4 486.6,289.3C487.3,289.2 488.0,289.0 488.6,288.9C489.3,288.8 490.0,288.7 490.6,288.7C491.3,288.6 492.0,288.5 492.6,288.4C493.3,288.3 494.0,288.2 494.6,288.2C495.3,288.1 496.0,288.0 496.6,288.0C497.3,287.9 498.0,287.8 498.6,287.8C499.3,287.7 500.0,287.7 500.6,287.6C501.3,287.6 502.0,287.5 502.6,287.5C503.3,287.4 504.0,287.4 504.6,287.4C505.3,287.3 505.9,287.3 506.6,287.3C507.3,287.2 507.9,287.2 508.6,287.2C509.3,287.1 509.9,287.1 510.6,287.1C511.3,287.1 511.9,287.1 512.6,287.0C513.3,287.0 513.9,287.0 514.6,287.0C515.3,287.0 515.9,287.0 516.6,287.0C517.3,286.9 517.9,286.9 518.6,286.9C519.3,286.9 519.9,286.9 520.6,286.9C521.3,286.9 521.9,286.9 522.6,286.9C523.3,286.9 523.9,286.9 524.6,286.9C525.3,286.9 525.9,286.9 526.6,286.8C527.3,286.8 527.9,286.8 528.6,286.8C529.3,286.8 529.9,286.8 530.6,286.8C531.3,286.8 531.9,286.8 532.6,286.8C533.3,286.8 533.9,286.8 534.6,286.8C535.3,286.8 535.9,286.8 536.6,286.7C537.3,286.7 537.9,286.7 538.6,286.7C539.3,286.7 540.3,286.7 540.6,286.7" fill="none" stroke="#f29532" stroke-width="1.25" stroke-linejoin="round" stroke-linecap="round"/>
<path d="M328.7,313.9C329.0,314.1 330.0,314.5 330.7,314.7C331.4,315.0 332.0,315.2 332.7,315.4C333.4,315.7 334.0,315.9 334.7,316.1C335.4,316.3 336.0,316.5 336.7,316.7C337.4,316.9 338.0,317.0 338.7,317.2C339.4,317.4 340.0,317.5 340.7,317.7C341.4,317.8 342.0,318.0 342.7,318.1C343.4,318.2 344.0,318.4 344.7,318.5C345.4,318.6 346.0,318.7 346.7,318.8C347.4,318.9 348.0,319.0 348.7,319.1C349.4,319.2 350.0,319.3 350.7,319.4C351.4,319.5 352.0,319.6 352.7,319.7C353.4,319.7 354.0,319.8 354.7,319.9C355.4,320.0 356.0,320.1 356.7,320.1C357.4,320.2 358.0,320.3 358.7,320.4C359.4,320.4 360.0,320.5 360.7,320.6C361.4,320.6 362.0,320.7 362.7,320.8C363.4,320.8 364.0,320.9 364.7,321.0C365.3,321.0 366.0,321.1 366.7,321.2C367.3,321.2 368.0,321.3 368.7,321.3C369.3,321.4 370.0,321.4 370.7,321.5C371.3,321.6 372.0,321.6 372.7,321.7C373.3,321.7 374.0,321.8 374.7,321.8C375.3,321.9 376.0,321.9 376.7,322.0C377.3,322.0 378.0,322.1 378.7,322.1C379.3,322.2 380.0,322.2 380.7,322.3C381.3,322.3 382.0,322.3 382.7,322.4C383.3,322.4 384.0,322.5 384.7,322.5C385.3,322.6 386.0,322.6 386.7,322.6C387.3,322.7 388.0,322.7 388.7,322.7C389.3,322.8 390.0,322.8 390.7,322.8C391.3,322.9 392.0,322.9 392.7,322.9C393.3,323.0 394.0,323.0 394.7,323.0C395.3,323.1 396.0,323.1 396.7,323.1C397.3,323.2 398.0,323.2 398.7,323.2C399.3,323.2 400.0,323.3 400.7,323.3C401.3,323.3 402.0,323.3 402.7,323.4C403.3,323.4 404.0,323.4 404.7,323.4C405.3,323.4 406.0,323.5 406.7,323.5C407.3,323.5 408.0,323.5 408.7,323.5C409.3,323.5 410.0,323.6 410.7,323.6C411.3,323.6 412.0,323.6 412.7,323.6C413.3,323.6 414.0,323.6 414.7,323.7C415.3,323.7 416.0,323.7 416.7,323.7C417.3,323.7 418.0,323.7 418.7,323.7C419.3,323.7 420.0,323.7 420.7,323.7C421.3,323.8 422.0,323.8 422.7,323.8C423.3,323.8 424.0,323.8 424.7,323.8C425.3,323.8 426.0,323.8 426.7,323.8C427.3,323.8 428.0,323.8 428.7,323.8C429.3,323.8 430.0,323.8 430.7,323.8C431.3,323.8 432.0,323.8 432.7,323.8C433.3,323.8 434.0,323.8 434.6,323.8C435.3,323.8 436.0,323.8 436.6,323.8C437.3,323.8 438.0,323.8 438.6,323.8C439.3,323.7 440.0,323.7 440.6,323.7C441.3,323.7 442.0,323.7 442.6,323.7C443.3,323.7 444.0,323.7 444.6,323.7C445.3,323.6 446.0,323.6 446.6,323.6C447.3,323.6 448.0,323.6 448.6,323.6C449.3,323.5 450.0,323.5 450.6,323.5C451.3,323.5 452.0,323.4 452.6,323.4C453.3,323.4 454.0,323.3 454.6,323.3C455.3,323.2 456.0,323.2 456.6,323.2C457.3,323.1 458.0,323.1 458.6,323.0C459.3,323.0 460.0,322.9 460.6,322.9C461.3,322.8 462.0,322.7 462.6,322.7C463.3,322.6 464.0,322.5 464.6,322.5C465.3,322.4 466.0,322.3 466.6,322.2C467.3,322.1 468.0,322.0 468.6,321.9C469.3,321.8 470.0,321.7 470.6,321.6C471.3,321.5 472.0,321.4 472.6,321.3C473.3,321.2 474.0,321.0 474.6,320.9C475.3,320.7 476.0,320.6 476.6,320.4C477.3,320.3 478.0,320.1 478.6,319.9C479.3,319.7 480.0,319.5 480.6,319.3C481.3,319.1 482.0,318.9 482.6,318.7C483.3,318.4 484.0,318.2 484.6,317.9C485.3,317.7 486.0,317.4 486.6,317.1C487.3,316.8 488.0,316.5 488.6,316.2C489.3,315.9 490.0,315.5 490.6,315.2C491.3,314.8 492.0,314.5 492.6,314.1C493.3,313.7 494.0,313.3 494.6,312.9C495.3,312.5 496.0,312.1 496.6,311.7C497.3,311.3 498.0,310.8 498.6,310.4C499.3,310.0 500.0,309.5 500.6,309.0C501.3,308.6 502.0,308.1 502.6,307.6C503.3,307.1 504.0,306.7 504.6,306.2C505.3,305.7 505.9,305.2 506.6,304.7C507.3,304.2 507.9,303.7 508.6,303.2C509.3,302.7 509.9,302.2 510.6,301.7C511.3,301.2 511.9,300.7 512.6,300.2C513.3,299.7 513.9,299.2 514.6,298.7C515.3,298.2 515.9,297.7 516.6,297.2C517.3,296.8 517.9,296.3 518.6,295.8C519.3,295.4 519.9,294.9 520.6,294.5C521.3,294.1 521.9,293.6 522.6,293.2C523.3,292.8 523.9,292.4 524.6,292.1C525.3,291.7 525.9,291.3 526.6,291.0C527.3,290.6 527.9,290.3 528.6,290.0C529.3,289.7 529.9,289.4 530.6,289.1C531.3,288.9 531.9,288.6 532.6,288.4C533.3,288.2 533.9,288.0 534.6,287.8C535.3,287.7 535.9,287.5 536.6,287.4C537.3,287.3 537.9,287.2 538.6,287.2C539.3,287.1 540.3,287.1 540.6,287.1" fill="none" stroke="#2f9233" stroke-width="1.25" stroke-linejoin="round" stroke-linecap="round"/>
<path d="M328.8,286.9C329.1,286.9 330.1,286.9 330.8,286.9C331.5,286.9 332.1,286.9 332.8,286.9C333.5,286.9 334.1,286.9 334.8,286.9C335.5,286.9 336.1,286.9 336.8,286.9C337.5,286.9 338.1,286.9 338.8,286.9C339.5,286.9 340.1,286.9 340.8,286.9C341.5,286.9 342.1,286.8 342.8,286.8C343.5,286.8 344.1,286.8 344.8,286.8C345.5,286.8 346.1,286.8 346.8,286.8C347.5,286.8 348.2,286.7 348.8,286.7C349.5,286.7 350.2,286.7 350.8,286.7C351.5,286.7 352.2,286.6 352.8,286.6C353.5,286.6 354.2,286.6 354.8,286.6C355.5,286.6 356.2,286.5 356.8,286.5C357.5,286.5 358.2,286.5 358.8,286.5C359.5,286.4 360.2,286.4 360.8,286.4C361.5,286.4 362.2,286.4 362.8,286.3C363.5,286.3 364.2,286.3 364.8,286.3C365.5,286.3 366.2,286.2 366.8,286.2C367.5,286.2 368.2,286.2 368.8,286.2C369.5,286.1 370.2,286.1 370.8,286.1C371.5,286.1 372.2,286.1 372.8,286.0C373.5,286.0 374.2,286.0 374.8,286.0C375.5,286.0 376.2,285.9 376.8,285.9C377.5,285.9 378.2,285.9 378.8,285.9C379.5,285.8 380.2,285.8 380.8,285.8C381.5,285.8 382.2,285.8 382.9,285.8C383.5,285.7 384.2,285.7 384.9,285.7C385.5,285.7 386.2,285.7 386.9,285.7C387.5,285.6 388.2,285.6 388.9,285.6C389.5,285.6 390.2,285.6 390.9,285.6C391.5,285.6 392.2,285.5 392.9,285.5C393.5,285.5 394.2,285.5 394.9,285.5C395.5,285.5 396.2,285.5 396.9,285.5C397.5,285.5 398.2,285.5 398.9,285.4C399.5,285.4 400.2,285.4 400.9,285.4C401.5,285.4 402.2,285.4 402.9,285.4C403.5,285.4 404.2,285.4 404.9,285.4C405.5,285.4 406.2,285.4 406.9,285.4C407.5,285.4 408.2,285.4 408.9,285.4C409.5,285.4 410.2,285.4 410.9,285.4C411.5,285.4 412.2,285.4 412.9,285.4C413.5,285.4 414.2,285.4 414.9,285.4C415.5,285.4 416.2,285.4 416.9,285.4C417.6,285.4 418.2,285.4 418.9,285.4C419.6,285.5 420.2,285.5 420.9,285.5C421.6,285.5 422.2,285.5 422.9,285.5C423.6,285.5 424.2,285.5 424.9,285.5C425.6,285.5 426.2,285.5 426.9,285.5C427.6,285.6 428.2,285.6 428.9,285.6C429.6,285.6 430.2,285.6 430.9,285.6C431.6,285.6 432.2,285.6 432.9,285.7C433.6,285.7 434.2,285.7 434.9,285.7C435.6,285.7 436.2,285.7 436.9,285.7C437.6,285.8 438.2,285.8 438.9,285.8C439.6,285.8 440.2,285.8 440.9,285.8C441.6,285.9 442.2,285.9 442.9,285.9C443.6,285.9 444.2,285.9 444.9,285.9C445.6,286.0 446.2,286.0 446.9,286.0C447.6,286.0 448.2,286.0 448.9,286.1C449.6,286.1 450.2,286.1 450.9,286.1C451.6,286.1 452.2,286.2 452.9,286.2C453.6,286.2 454.3,286.2 454.9,286.3C455.6,286.3 456.3,286.3 456.9,286.3C457.6,286.3 458.3,286.4 458.9,286.4C459.6,286.4 460.3,286.4 460.9,286.5C461.6,286.5 462.3,286.5 462.9,286.5C463.6,286.5 464.3,286.6 464.9,286.6C465.6,286.6 466.3,286.6 466.9,286.7C467.6,286.7 468.3,286.7 468.9,286.7C469.6,286.8 470.3,286.8 470.9,286.8C471.6,286.8 472.3,286.9 472.9,286.9C473.6,286.9 474.3,286.9 474.9,287.0C475.6,287.0 476.3,287.0 476.9,287.0C477.6,287.1 478.3,287.1 478.9,287.1C479.6,287.1 480.3,287.2 480.9,287.2C481.6,287.2 482.3,287.2 482.9,287.3C483.6,287.3 484.3,287.3 484.9,287.3C485.6,287.3 486.3,287.4 486.9,287.4C487.6,287.4 488.3,287.4 489.0,287.4C489.6,287.5 490.3,287.5 491.0,287.5C491.6,287.5 492.3,287.5 493.0,287.6C493.6,287.6 494.3,287.6 495.0,287.6C495.6,287.6 496.3,287.6 497.0,287.6C497.6,287.7 498.3,287.7 499.0,287.7C499.6,287.7 500.3,287.7 501.0,287.7C501.6,287.7 502.3,287.7 503.0,287.7C503.6,287.7 504.3,287.8 505.0,287.8C505.6,287.8 506.3,287.8 507.0,287.8C507.6,287.8 508.3,287.8 509.0,287.8C509.6,287.8 510.3,287.8 511.0,287.8C511.6,287.8 512.3,287.8 513.0,287.8C513.6,287.8 514.3,287.8 515.0,287.8C515.6,287.7 516.3,287.7 517.0,287.7C517.6,287.7 518.3,287.7 519.0,287.7C519.6,287.7 520.3,287.7 521.0,287.6C521.6,287.6 522.3,287.6 523.0,287.6C523.7,287.6 524.3,287.6 525.0,287.5C525.7,287.5 526.3,287.5 527.0,287.5C527.7,287.4 528.3,287.4 529.0,287.4C529.7,287.3 530.3,287.3 531.0,287.3C531.7,287.2 532.3,287.2 533.0,287.2C533.7,287.1 534.3,287.1 535.0,287.0C535.7,287.0 536.3,286.9 537.0,286.9C537.7,286.8 538.3,286.8 539.0,286.7C539.7,286.7 540.7,286.6 541.0,286.6" fill="none" stroke="#3429a2" stroke-width="1.25" stroke-linejoin="round" stroke-linecap="round"/>
<rect x="328.50" y="218.30" width="214.10" height="137.20" fill="none" stroke="#5a5a5a" stroke-width="1.25"/>
<text x="434.60" y="234.40" class="cl" textLength="36.3" lengthAdjust="spacingAndGlyphs">590 nm</text>
<text x="434.60" y="280.40" class="cl" textLength="36.3" lengthAdjust="spacingAndGlyphs">410 nm</text>
<text x="434.00" y="313.00" class="cl" textLength="36.3" lengthAdjust="spacingAndGlyphs">550 nm</text>
<text x="434.00" y="338.00" class="cl" textLength="36.3" lengthAdjust="spacingAndGlyphs">510 nm</text>
<text x="527.00" y="348.20" class="pl">D</text>
<text x="538.30" y="209.50" class="ti" text-anchor="end" textLength="48.6" lengthAdjust="spacingAndGlyphs">Caf-ESR</text>
<text x="409.50" y="387.30" class="ax">Time, s</text>
<path d="M286.90,313.60 L296.40,310.00" stroke="#000" stroke-width="1.8" stroke-linecap="round"/>
<path d="M286.90,313.60 L296.40,317.70 L296.40,310.00" fill="none" stroke="#222" stroke-width="0.75" stroke-linejoin="miter"/>
<text transform="translate(297.10,308.80) rotate(-90)" x="0" y="0" class="ax" textLength="43.0" lengthAdjust="spacingAndGlyphs">A, OD</text>
</svg>
</body></html>
